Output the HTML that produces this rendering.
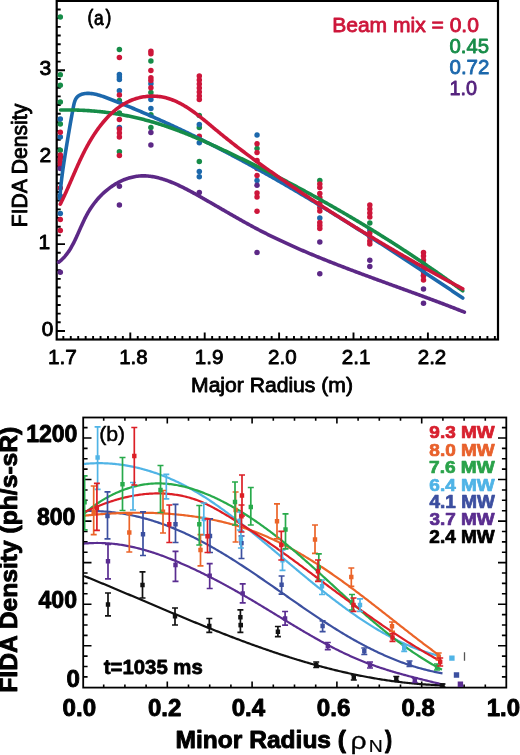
<!DOCTYPE html>
<html><head><meta charset="utf-8"><title>FIDA Density</title>
<style>html,body{margin:0;padding:0;background:#fff;width:520px;height:755px;overflow:hidden}svg{display:block}</style>
</head><body>
<svg width="520" height="755" viewBox="0 0 520 755">
<defs><clipPath id="clipb"><rect x="84" y="418.5" width="421.5" height="268.5"/></clipPath></defs>
<rect width="520" height="755" fill="#fff"/>
<rect x="56.7" y="0.9" width="441.3" height="338.6" fill="none" stroke="#000" stroke-width="2.2"/>
<path d="M56.7,331.00h8.3M56.7,322.31h4.0M56.7,313.62h4.0M56.7,304.93h4.0M56.7,296.24h4.0M56.7,287.55h4.0M56.7,278.86h4.0M56.7,270.17h4.0M56.7,261.48h4.0M56.7,252.79h4.0M56.7,244.10h8.3M56.7,235.41h4.0M56.7,226.72h4.0M56.7,218.03h4.0M56.7,209.34h4.0M56.7,200.65h4.0M56.7,191.96h4.0M56.7,183.27h4.0M56.7,174.58h4.0M56.7,165.89h4.0M56.7,157.20h8.3M56.7,148.51h4.0M56.7,139.82h4.0M56.7,131.13h4.0M56.7,122.44h4.0M56.7,113.75h4.0M56.7,105.06h4.0M56.7,96.37h4.0M56.7,87.68h4.0M56.7,78.99h4.0M56.7,70.30h8.3M56.7,61.61h4.0M56.7,52.92h4.0M56.7,44.23h4.0M56.7,35.54h4.0M56.7,26.85h4.0M56.7,18.16h4.0M56.7,9.47h4.0M63.34,339.5v-3.6M70.78,339.5v-3.6M78.22,339.5v-3.6M85.66,339.5v-3.6M93.10,339.5v-3.6M100.54,339.5v-3.6M107.98,339.5v-3.6M115.42,339.5v-3.6M122.86,339.5v-3.6M130.30,339.5v-7.0M137.74,339.5v-3.6M145.18,339.5v-3.6M152.62,339.5v-3.6M160.06,339.5v-3.6M167.50,339.5v-3.6M174.94,339.5v-3.6M182.38,339.5v-3.6M189.82,339.5v-3.6M197.26,339.5v-3.6M204.70,339.5v-7.0M212.14,339.5v-3.6M219.58,339.5v-3.6M227.02,339.5v-3.6M234.46,339.5v-3.6M241.90,339.5v-3.6M249.34,339.5v-3.6M256.78,339.5v-3.6M264.22,339.5v-3.6M271.66,339.5v-3.6M279.10,339.5v-7.0M286.54,339.5v-3.6M293.98,339.5v-3.6M301.42,339.5v-3.6M308.86,339.5v-3.6M316.30,339.5v-3.6M323.74,339.5v-3.6M331.18,339.5v-3.6M338.62,339.5v-3.6M346.06,339.5v-3.6M353.50,339.5v-7.0M360.94,339.5v-3.6M368.38,339.5v-3.6M375.82,339.5v-3.6M383.26,339.5v-3.6M390.70,339.5v-3.6M398.14,339.5v-3.6M405.58,339.5v-3.6M413.02,339.5v-3.6M420.46,339.5v-3.6M427.90,339.5v-7.0M435.34,339.5v-3.6M442.78,339.5v-3.6M450.22,339.5v-3.6M457.66,339.5v-3.6M465.10,339.5v-3.6M472.54,339.5v-3.6M479.98,339.5v-3.6M487.42,339.5v-3.6M494.86,339.5v-3.6" stroke="#000" stroke-width="1.9" fill="none"/>
<rect x="83.2" y="417.5" width="423.1" height="270.1" fill="none" stroke="#000" stroke-width="1.8"/>
<path d="M83.2,676.91h4.4M506.3,676.91h-4.4M83.2,666.52h4.4M506.3,666.52h-4.4M83.2,656.14h4.4M506.3,656.14h-4.4M83.2,645.75h8.3M506.3,645.75h-8.3M83.2,635.36h4.4M506.3,635.36h-4.4M83.2,624.97h4.4M506.3,624.97h-4.4M83.2,614.59h4.4M506.3,614.59h-4.4M83.2,604.20h8.3M506.3,604.20h-8.3M83.2,593.81h4.4M506.3,593.81h-4.4M83.2,583.42h4.4M506.3,583.42h-4.4M83.2,573.04h4.4M506.3,573.04h-4.4M83.2,562.65h8.3M506.3,562.65h-8.3M83.2,552.26h4.4M506.3,552.26h-4.4M83.2,541.88h4.4M506.3,541.88h-4.4M83.2,531.49h4.4M506.3,531.49h-4.4M83.2,521.10h8.3M506.3,521.10h-8.3M83.2,510.71h4.4M506.3,510.71h-4.4M83.2,500.32h4.4M506.3,500.32h-4.4M83.2,489.94h4.4M506.3,489.94h-4.4M83.2,479.55h8.3M506.3,479.55h-8.3M83.2,469.16h4.4M506.3,469.16h-4.4M83.2,458.77h4.4M506.3,458.77h-4.4M83.2,448.39h4.4M506.3,448.39h-4.4M83.2,438.00h8.3M506.3,438.00h-8.3M83.2,427.61h4.4M506.3,427.61h-4.4M103.70,687.6v-3.2M103.70,417.5v3.2M124.90,687.6v-3.2M124.90,417.5v3.2M146.10,687.6v-3.2M146.10,417.5v3.2M167.30,687.6v-6.0M167.30,417.5v6.0M188.50,687.6v-3.2M188.50,417.5v3.2M209.70,687.6v-3.2M209.70,417.5v3.2M230.90,687.6v-3.2M230.90,417.5v3.2M252.10,687.6v-6.0M252.10,417.5v6.0M273.30,687.6v-3.2M273.30,417.5v3.2M294.50,687.6v-3.2M294.50,417.5v3.2M315.70,687.6v-3.2M315.70,417.5v3.2M336.90,687.6v-6.0M336.90,417.5v6.0M358.10,687.6v-3.2M358.10,417.5v3.2M379.30,687.6v-3.2M379.30,417.5v3.2M400.50,687.6v-3.2M400.50,417.5v3.2M421.70,687.6v-6.0M421.70,417.5v6.0M442.90,687.6v-3.2M442.90,417.5v3.2M464.10,687.6v-3.2M464.10,417.5v3.2M485.30,687.6v-3.2M485.30,417.5v3.2" stroke="#000" stroke-width="1.6" fill="none"/>
<circle cx="60.3" cy="16.9" r="2.75" fill="#168c48"/>
<circle cx="60.3" cy="74.8" r="2.75" fill="#168c48"/>
<circle cx="60.3" cy="85.2" r="2.75" fill="#168c48"/>
<circle cx="60.3" cy="102" r="2.75" fill="#168c48"/>
<circle cx="60.3" cy="124" r="2.75" fill="#168c48"/>
<circle cx="60.3" cy="150.3" r="2.75" fill="#168c48"/>
<circle cx="60.3" cy="119" r="2.75" fill="#1c68ac"/>
<circle cx="60.3" cy="137" r="2.75" fill="#1c68ac"/>
<circle cx="60.3" cy="196" r="2.75" fill="#1c68ac"/>
<circle cx="60.3" cy="213.4" r="2.75" fill="#1c68ac"/>
<circle cx="60.3" cy="132.3" r="2.75" fill="#cd163a"/>
<circle cx="60.3" cy="155" r="2.75" fill="#cd163a"/>
<circle cx="60.3" cy="158.5" r="2.75" fill="#cd163a"/>
<circle cx="60.3" cy="162" r="2.75" fill="#cd163a"/>
<circle cx="60.3" cy="165.5" r="2.75" fill="#cd163a"/>
<circle cx="60.3" cy="188" r="2.75" fill="#cd163a"/>
<circle cx="60.3" cy="219.4" r="2.75" fill="#cd163a"/>
<circle cx="60.3" cy="230.5" r="2.75" fill="#cd163a"/>
<circle cx="60.3" cy="168.5" r="2.75" fill="#5c2886"/>
<circle cx="60.3" cy="272.3" r="2.75" fill="#5c2886"/>
<circle cx="119.4" cy="49.5" r="2.75" fill="#168c48"/>
<circle cx="119.4" cy="100.4" r="2.75" fill="#168c48"/>
<circle cx="119.4" cy="113.1" r="2.75" fill="#168c48"/>
<circle cx="119.4" cy="151.8" r="2.75" fill="#168c48"/>
<circle cx="119.4" cy="74.5" r="2.75" fill="#1c68ac"/>
<circle cx="119.4" cy="77" r="2.75" fill="#1c68ac"/>
<circle cx="119.4" cy="79.5" r="2.75" fill="#1c68ac"/>
<circle cx="119.4" cy="90.8" r="2.75" fill="#1c68ac"/>
<circle cx="119.4" cy="127.5" r="2.75" fill="#1c68ac"/>
<circle cx="119.4" cy="57.5" r="2.75" fill="#cd163a"/>
<circle cx="119.4" cy="95" r="2.75" fill="#cd163a"/>
<circle cx="119.4" cy="119.5" r="2.75" fill="#cd163a"/>
<circle cx="119.4" cy="129" r="2.75" fill="#cd163a"/>
<circle cx="119.4" cy="133" r="2.75" fill="#cd163a"/>
<circle cx="119.4" cy="137" r="2.75" fill="#cd163a"/>
<circle cx="119.4" cy="155.5" r="2.75" fill="#cd163a"/>
<circle cx="119.4" cy="186.3" r="2.75" fill="#5c2886"/>
<circle cx="119.4" cy="205" r="2.75" fill="#5c2886"/>
<circle cx="150.9" cy="61" r="2.75" fill="#168c48"/>
<circle cx="150.9" cy="92.5" r="2.75" fill="#168c48"/>
<circle cx="150.9" cy="114.7" r="2.75" fill="#168c48"/>
<circle cx="150.9" cy="127.4" r="2.75" fill="#168c48"/>
<circle cx="150.9" cy="83.7" r="2.75" fill="#1c68ac"/>
<circle cx="150.9" cy="99.6" r="2.75" fill="#1c68ac"/>
<circle cx="150.9" cy="108.4" r="2.75" fill="#1c68ac"/>
<circle cx="150.9" cy="51.3" r="2.75" fill="#cd163a"/>
<circle cx="150.9" cy="53.8" r="2.75" fill="#cd163a"/>
<circle cx="150.9" cy="70.5" r="2.75" fill="#cd163a"/>
<circle cx="150.9" cy="77.8" r="2.75" fill="#cd163a"/>
<circle cx="150.9" cy="80.5" r="2.75" fill="#cd163a"/>
<circle cx="150.9" cy="87.7" r="2.75" fill="#cd163a"/>
<circle cx="150.9" cy="132.5" r="2.75" fill="#5c2886"/>
<circle cx="150.9" cy="145" r="2.75" fill="#5c2886"/>
<circle cx="199.3" cy="115.6" r="2.75" fill="#168c48"/>
<circle cx="199.3" cy="127.6" r="2.75" fill="#168c48"/>
<circle cx="199.3" cy="161.5" r="2.75" fill="#168c48"/>
<circle cx="199.3" cy="124.4" r="2.75" fill="#1c68ac"/>
<circle cx="199.3" cy="142.7" r="2.75" fill="#1c68ac"/>
<circle cx="199.3" cy="171.5" r="2.75" fill="#1c68ac"/>
<circle cx="199.3" cy="176.8" r="2.75" fill="#1c68ac"/>
<circle cx="199.3" cy="76" r="2.75" fill="#cd163a"/>
<circle cx="199.3" cy="80" r="2.75" fill="#cd163a"/>
<circle cx="199.3" cy="84" r="2.75" fill="#cd163a"/>
<circle cx="199.3" cy="88" r="2.75" fill="#cd163a"/>
<circle cx="199.3" cy="92" r="2.75" fill="#cd163a"/>
<circle cx="199.3" cy="96" r="2.75" fill="#cd163a"/>
<circle cx="199.3" cy="99.5" r="2.75" fill="#cd163a"/>
<circle cx="199.3" cy="136.3" r="2.75" fill="#cd163a"/>
<circle cx="199.3" cy="192.6" r="2.75" fill="#5c2886"/>
<circle cx="257.0" cy="148.6" r="2.75" fill="#168c48"/>
<circle cx="257.0" cy="135.1" r="2.75" fill="#1c68ac"/>
<circle cx="257.0" cy="180.4" r="2.75" fill="#1c68ac"/>
<circle cx="257.0" cy="143.8" r="2.75" fill="#cd163a"/>
<circle cx="257.0" cy="152.6" r="2.75" fill="#cd163a"/>
<circle cx="257.0" cy="160.5" r="2.75" fill="#cd163a"/>
<circle cx="257.0" cy="168.5" r="2.75" fill="#cd163a"/>
<circle cx="257.0" cy="175.6" r="2.75" fill="#cd163a"/>
<circle cx="257.0" cy="193" r="2.75" fill="#cd163a"/>
<circle cx="257.0" cy="197" r="2.75" fill="#cd163a"/>
<circle cx="257.0" cy="211.2" r="2.75" fill="#cd163a"/>
<circle cx="257.0" cy="185.2" r="2.75" fill="#5c2886"/>
<circle cx="257.0" cy="252.4" r="2.75" fill="#5c2886"/>
<circle cx="319.8" cy="180.5" r="2.75" fill="#168c48"/>
<circle cx="319.8" cy="218" r="2.75" fill="#1c68ac"/>
<circle cx="319.8" cy="184" r="2.75" fill="#cd163a"/>
<circle cx="319.8" cy="187.5" r="2.75" fill="#cd163a"/>
<circle cx="319.8" cy="193.5" r="2.75" fill="#cd163a"/>
<circle cx="319.8" cy="197.5" r="2.75" fill="#cd163a"/>
<circle cx="319.8" cy="203" r="2.75" fill="#cd163a"/>
<circle cx="319.8" cy="207.5" r="2.75" fill="#cd163a"/>
<circle cx="319.8" cy="211" r="2.75" fill="#cd163a"/>
<circle cx="319.8" cy="222.5" r="2.75" fill="#cd163a"/>
<circle cx="319.8" cy="225.5" r="2.75" fill="#cd163a"/>
<circle cx="319.8" cy="228.5" r="2.75" fill="#cd163a"/>
<circle cx="319.8" cy="241.9" r="2.75" fill="#5c2886"/>
<circle cx="319.8" cy="273.7" r="2.75" fill="#5c2886"/>
<circle cx="369.8" cy="222.9" r="2.75" fill="#168c48"/>
<circle cx="369.8" cy="230.1" r="2.75" fill="#1c68ac"/>
<circle cx="369.8" cy="205" r="2.75" fill="#cd163a"/>
<circle cx="369.8" cy="209" r="2.75" fill="#cd163a"/>
<circle cx="369.8" cy="213" r="2.75" fill="#cd163a"/>
<circle cx="369.8" cy="217" r="2.75" fill="#cd163a"/>
<circle cx="369.8" cy="233" r="2.75" fill="#cd163a"/>
<circle cx="369.8" cy="237" r="2.75" fill="#cd163a"/>
<circle cx="369.8" cy="241" r="2.75" fill="#cd163a"/>
<circle cx="369.8" cy="244" r="2.75" fill="#cd163a"/>
<circle cx="369.8" cy="260.3" r="2.75" fill="#5c2886"/>
<circle cx="369.8" cy="266.6" r="2.75" fill="#5c2886"/>
<circle cx="423.5" cy="275.3" r="2.75" fill="#1c68ac"/>
<circle cx="423.5" cy="252.6" r="2.75" fill="#cd163a"/>
<circle cx="423.5" cy="256" r="2.75" fill="#cd163a"/>
<circle cx="423.5" cy="260" r="2.75" fill="#cd163a"/>
<circle cx="423.5" cy="264" r="2.75" fill="#cd163a"/>
<circle cx="423.5" cy="268" r="2.75" fill="#cd163a"/>
<circle cx="423.5" cy="272" r="2.75" fill="#cd163a"/>
<circle cx="423.5" cy="276" r="2.75" fill="#cd163a"/>
<circle cx="423.5" cy="280" r="2.75" fill="#cd163a"/>
<circle cx="423.5" cy="289" r="2.75" fill="#5c2886"/>
<circle cx="423.5" cy="303.3" r="2.75" fill="#5c2886"/>
<path d="M58.61,262.22 L59.51,261.53 L60.38,260.82 L61.23,260.09 L62.06,259.33 L62.86,258.55 L63.64,257.75 L64.40,256.93 L65.14,256.09 L65.86,255.22 L66.56,254.34 L67.24,253.45 L67.90,252.53 L68.55,251.60 L69.19,250.65 L69.81,249.69 L70.41,248.71 L71.00,247.72 L71.58,246.71 L72.15,245.70 L72.71,244.67 L73.26,243.63 L73.80,242.58 L74.33,241.52 L74.85,240.45 L75.37,239.37 L75.88,238.28 L76.39,237.19 L76.89,236.09 L77.39,234.98 L77.89,233.87 L78.38,232.76 L78.88,231.64 L79.37,230.52 L79.87,229.39 L80.36,228.27 L80.86,227.14 L81.37,226.01 L81.88,224.89 L82.39,223.76 L82.91,222.64 L83.43,221.52 L83.96,220.40 L84.50,219.28 L85.05,218.17 L85.61,217.07 L86.18,215.97 L86.76,214.88 L87.36,213.79 L87.96,212.72 L88.58,211.65 L89.22,210.59 L89.87,209.54 L90.54,208.50 L91.22,207.47 L91.91,206.45 L92.62,205.44 L93.34,204.45 L94.08,203.46 L94.83,202.49 L95.60,201.53 L96.37,200.58 L97.16,199.65 L97.96,198.73 L98.78,197.82 L99.61,196.93 L100.44,196.05 L101.30,195.18 L102.16,194.33 L103.03,193.49 L103.91,192.67 L104.81,191.87 L105.72,191.08 L106.63,190.31 L107.56,189.55 L108.49,188.81 L109.44,188.09 L110.39,187.38 L111.36,186.70 L112.33,186.03 L113.31,185.38 L114.30,184.75 L115.30,184.13 L116.31,183.54 L117.32,182.97 L118.34,182.41 L119.37,181.88 L120.41,181.36 L121.45,180.87 L122.50,180.40 L123.56,179.95 L124.62,179.52 L125.69,179.12 L126.76,178.73 L127.84,178.37 L128.92,178.03 L130.01,177.72 L131.11,177.43 L132.20,177.16 L133.31,176.92 L134.41,176.70 L135.52,176.50 L136.64,176.34 L137.76,176.19 L138.88,176.07 L140.00,175.98 L141.13,175.92 L142.26,175.88 L143.39,175.87 L144.52,175.88 L145.66,175.92 L146.79,175.98 L147.93,176.06 L149.07,176.17 L150.22,176.30 L151.36,176.46 L152.51,176.64 L153.65,176.83 L154.80,177.05 L155.95,177.29 L157.10,177.55 L158.25,177.82 L159.40,178.12 L160.55,178.43 L161.71,178.77 L162.86,179.12 L164.01,179.48 L165.16,179.86 L166.32,180.26 L167.47,180.67 L168.62,181.10 L169.77,181.54 L170.92,181.99 L172.07,182.46 L173.22,182.94 L174.37,183.43 L175.52,183.93 L176.66,184.44 L177.81,184.96 L178.95,185.50 L180.10,186.04 L181.24,186.59 L182.37,187.15 L183.51,187.71 L184.65,188.29 L185.78,188.87 L186.91,189.45 L188.04,190.04 L189.16,190.64 L190.29,191.24 L191.41,191.85 L192.52,192.45 L193.64,193.07 L194.75,193.68 L195.86,194.29 L196.96,194.91 L198.06,195.53 L199.16,196.15 L200.25,196.77 L201.34,197.38 L202.43,198.00 L203.51,198.62 L204.59,199.23 L205.67,199.85 L206.74,200.46 L207.81,201.07 L208.88,201.69 L209.94,202.30 L211.00,202.91 L212.06,203.52 L213.12,204.13 L214.17,204.74 L215.22,205.35 L216.27,205.95 L217.32,206.56 L218.36,207.17 L219.40,207.77 L220.44,208.37 L221.48,208.97 L222.52,209.58 L223.55,210.18 L224.59,210.77 L225.62,211.37 L226.65,211.97 L227.68,212.56 L228.71,213.16 L229.74,213.75 L230.76,214.34 L231.79,214.93 L232.82,215.52 L233.84,216.11 L234.87,216.69 L235.89,217.28 L236.91,217.86 L237.94,218.44 L238.96,219.02 L239.98,219.60 L241.01,220.18 L242.03,220.75 L243.05,221.33 L244.08,221.90 L245.10,222.47 L246.13,223.04 L247.15,223.60 L248.18,224.17 L249.21,224.73 L250.24,225.29 L251.27,225.85 L252.30,226.41 L253.33,226.97 L254.37,227.52 L255.40,228.07 L256.44,228.62 L257.48,229.17 L258.52,229.72 L259.56,230.26 L260.61,230.80 L261.65,231.34 L262.70,231.88 L263.75,232.41 L264.80,232.95 L265.85,233.48 L266.91,234.01 L267.96,234.54 L269.02,235.06 L270.08,235.59 L271.14,236.11 L272.20,236.63 L273.27,237.15 L274.33,237.66 L275.40,238.18 L276.47,238.69 L277.54,239.20 L278.61,239.71 L279.68,240.22 L280.76,240.73 L281.83,241.23 L282.91,241.73 L283.99,242.23 L285.07,242.73 L286.15,243.23 L287.23,243.73 L288.32,244.22 L289.40,244.72 L290.49,245.21 L291.58,245.70 L292.67,246.18 L293.76,246.67 L294.85,247.16 L295.94,247.64 L297.04,248.12 L298.13,248.60 L299.23,249.08 L300.33,249.56 L301.43,250.04 L302.53,250.51 L303.63,250.98 L304.73,251.46 L305.83,251.93 L306.94,252.40 L308.04,252.87 L309.15,253.33 L310.26,253.80 L311.36,254.26 L312.47,254.72 L313.58,255.19 L314.69,255.65 L315.81,256.11 L316.92,256.56 L318.03,257.02 L319.15,257.48 L320.26,257.93 L321.38,258.38 L322.50,258.84 L323.62,259.29 L324.74,259.74 L325.86,260.19 L326.98,260.63 L328.10,261.08 L329.22,261.53 L330.34,261.97 L331.47,262.42 L332.59,262.86 L333.71,263.30 L334.84,263.74 L335.97,264.18 L337.09,264.62 L338.22,265.06 L339.35,265.49 L340.48,265.93 L341.61,266.37 L342.73,266.80 L343.86,267.23 L345.00,267.67 L346.13,268.10 L347.26,268.53 L348.39,268.96 L349.52,269.39 L350.65,269.82 L351.79,270.25 L352.92,270.68 L354.06,271.10 L355.19,271.53 L356.32,271.96 L357.46,272.38 L358.59,272.80 L359.73,273.23 L360.87,273.65 L362.00,274.07 L363.14,274.50 L364.28,274.92 L365.41,275.34 L366.55,275.76 L367.69,276.18 L368.82,276.60 L369.96,277.02 L371.10,277.43 L372.24,277.85 L373.37,278.27 L374.51,278.69 L375.65,279.10 L376.79,279.52 L377.93,279.94 L379.06,280.35 L380.20,280.77 L381.34,281.18 L382.48,281.60 L383.62,282.01 L384.75,282.43 L385.89,282.84 L387.03,283.25 L388.17,283.67 L389.30,284.08 L390.44,284.49 L391.58,284.91 L392.72,285.32 L393.85,285.73 L394.99,286.14 L396.13,286.56 L397.26,286.97 L398.40,287.38 L399.53,287.79 L400.67,288.20 L401.80,288.62 L402.94,289.03 L404.07,289.44 L405.21,289.85 L406.34,290.26 L407.47,290.68 L408.61,291.09 L409.74,291.50 L410.87,291.91 L412.00,292.33 L413.13,292.74 L414.26,293.15 L415.39,293.56 L416.52,293.98 L417.65,294.39 L418.78,294.80 L419.91,295.22 L421.03,295.63 L422.16,296.04 L423.29,296.46 L424.41,296.87 L425.54,297.29 L426.66,297.70 L427.78,298.12 L428.91,298.53 L430.03,298.95 L431.15,299.37 L432.27,299.78 L433.39,300.20 L434.51,300.62 L435.62,301.04 L436.74,301.46 L437.86,301.88 L438.97,302.29 L440.09,302.72 L441.20,303.14 L442.32,303.56 L443.43,303.98 L444.54,304.40 L445.65,304.82 L446.76,305.25 L447.87,305.67 L448.97,306.10 L450.08,306.52 L451.18,306.95 L452.29,307.37 L453.39,307.80 L454.49,308.23 L455.59,308.66 L456.69,309.09 L457.79,309.52 L458.89,309.95 L459.99,310.38 L461.08,310.81 L462.17,311.25 L463.27,311.68 L464.36,312.11" fill="none" stroke="#5c2886" stroke-width="3.6" stroke-linecap="round" stroke-linejoin="round"/>
<path d="M59.83,199.01 L59.91,197.66 L59.99,196.30 L60.09,194.95 L60.19,193.59 L60.29,192.23 L60.41,190.87 L60.52,189.51 L60.65,188.15 L60.78,186.79 L60.92,185.43 L61.06,184.07 L61.21,182.71 L61.36,181.34 L61.52,179.98 L61.69,178.62 L61.85,177.26 L62.03,175.90 L62.20,174.54 L62.38,173.18 L62.57,171.82 L62.75,170.46 L62.94,169.10 L63.14,167.74 L63.34,166.38 L63.54,165.03 L63.74,163.67 L63.94,162.32 L64.15,160.97 L64.36,159.62 L64.57,158.27 L64.78,156.92 L64.99,155.58 L65.21,154.24 L65.42,152.90 L65.64,151.56 L65.86,150.22 L66.07,148.89 L66.29,147.56 L66.51,146.23 L66.73,144.90 L66.95,143.57 L67.16,142.25 L67.38,140.92 L67.60,139.60 L67.82,138.28 L68.05,136.95 L68.27,135.62 L68.49,134.29 L68.72,132.96 L68.95,131.63 L69.17,130.29 L69.40,128.95 L69.64,127.60 L69.87,126.25 L70.11,124.89 L70.35,123.53 L70.59,122.16 L70.84,120.78 L71.08,119.40 L71.33,118.01 L71.59,116.61 L71.84,115.20 L72.11,113.78 L72.37,112.35 L72.64,110.91 L72.91,109.46 L73.18,108.00 L73.46,106.53 L73.76,105.06 L74.09,103.63 L74.47,102.24 L74.91,100.92 L75.42,99.68 L76.02,98.55 L76.73,97.55 L77.53,96.68 L78.42,95.92 L79.39,95.28 L80.44,94.74 L81.54,94.30 L82.70,93.96 L83.91,93.70 L85.15,93.52 L86.42,93.42 L87.71,93.39 L89.01,93.41 L90.30,93.49 L91.60,93.62 L92.90,93.80 L94.20,94.02 L95.50,94.28 L96.79,94.58 L98.09,94.92 L99.38,95.29 L100.68,95.68 L101.97,96.10 L103.27,96.54 L104.56,97.00 L105.85,97.48 L107.14,97.96 L108.43,98.46 L109.72,98.96 L111.01,99.46 L112.30,99.96 L113.59,100.47 L114.87,100.98 L116.16,101.48 L117.44,101.99 L118.72,102.51 L120.01,103.02 L121.29,103.54 L122.57,104.05 L123.84,104.57 L125.12,105.09 L126.40,105.61 L127.67,106.13 L128.95,106.66 L130.22,107.18 L131.50,107.71 L132.77,108.24 L134.04,108.77 L135.31,109.30 L136.58,109.84 L137.85,110.37 L139.11,110.91 L140.38,111.45 L141.65,111.99 L142.91,112.53 L144.18,113.07 L145.44,113.62 L146.70,114.16 L147.96,114.71 L149.22,115.26 L150.48,115.81 L151.74,116.36 L153.00,116.92 L154.25,117.47 L155.51,118.03 L156.76,118.58 L158.02,119.14 L159.27,119.70 L160.52,120.27 L161.77,120.83 L163.02,121.39 L164.27,121.96 L165.52,122.53 L166.77,123.10 L168.02,123.67 L169.26,124.24 L170.51,124.81 L171.75,125.39 L172.99,125.96 L174.24,126.54 L175.48,127.12 L176.72,127.70 L177.96,128.28 L179.20,128.87 L180.44,129.45 L181.68,130.04 L182.91,130.62 L184.15,131.21 L185.38,131.80 L186.62,132.39 L187.85,132.98 L189.09,133.58 L190.32,134.17 L191.55,134.77 L192.78,135.37 L194.01,135.97 L195.24,136.57 L196.47,137.17 L197.69,137.77 L198.92,138.38 L200.15,138.98 L201.37,139.59 L202.59,140.20 L203.82,140.80 L205.04,141.42 L206.26,142.03 L207.48,142.64 L208.71,143.25 L209.93,143.87 L211.14,144.49 L212.36,145.10 L213.58,145.72 L214.80,146.34 L216.01,146.97 L217.23,147.59 L218.44,148.21 L219.66,148.84 L220.87,149.46 L222.08,150.09 L223.29,150.72 L224.51,151.35 L225.72,151.98 L226.93,152.61 L228.14,153.25 L229.34,153.88 L230.55,154.52 L231.76,155.15 L232.96,155.79 L234.17,156.43 L235.38,157.07 L236.58,157.71 L237.78,158.36 L238.99,159.00 L240.19,159.64 L241.39,160.29 L242.59,160.94 L243.79,161.58 L244.99,162.23 L246.19,162.88 L247.39,163.54 L248.59,164.19 L249.78,164.84 L250.98,165.50 L252.18,166.15 L253.37,166.81 L254.57,167.47 L255.76,168.13 L256.95,168.78 L258.15,169.45 L259.34,170.11 L260.53,170.77 L261.72,171.43 L262.91,172.10 L264.10,172.77 L265.29,173.43 L266.48,174.10 L267.67,174.77 L268.86,175.44 L270.04,176.11 L271.23,176.78 L272.41,177.46 L273.60,178.13 L274.78,178.80 L275.97,179.48 L277.15,180.16 L278.34,180.83 L279.52,181.51 L280.70,182.19 L281.88,182.87 L283.06,183.55 L284.24,184.24 L285.42,184.92 L286.60,185.60 L287.78,186.29 L288.96,186.98 L290.14,187.66 L291.31,188.35 L292.49,189.04 L293.66,189.73 L294.84,190.42 L296.02,191.11 L297.19,191.80 L298.36,192.50 L299.54,193.19 L300.71,193.89 L301.88,194.58 L303.06,195.28 L304.23,195.97 L305.40,196.67 L306.57,197.37 L307.74,198.07 L308.91,198.77 L310.08,199.47 L311.25,200.18 L312.42,200.88 L313.58,201.58 L314.75,202.29 L315.92,202.99 L317.08,203.70 L318.25,204.41 L319.42,205.11 L320.58,205.82 L321.75,206.53 L322.91,207.24 L324.07,207.95 L325.24,208.67 L326.40,209.38 L327.56,210.09 L328.73,210.80 L329.89,211.52 L331.05,212.23 L332.21,212.95 L333.37,213.67 L334.53,214.38 L335.69,215.10 L336.85,215.82 L338.01,216.54 L339.17,217.26 L340.33,217.98 L341.48,218.70 L342.64,219.43 L343.80,220.15 L344.96,220.87 L346.11,221.60 L347.27,222.32 L348.42,223.05 L349.58,223.77 L350.74,224.50 L351.89,225.23 L353.04,225.96 L354.20,226.69 L355.35,227.41 L356.51,228.14 L357.66,228.88 L358.81,229.61 L359.96,230.34 L361.12,231.07 L362.27,231.80 L363.42,232.54 L364.57,233.27 L365.72,234.01 L366.87,234.74 L368.02,235.48 L369.17,236.21 L370.32,236.95 L371.47,237.69 L372.62,238.43 L373.77,239.16 L374.92,239.90 L376.07,240.64 L377.21,241.38 L378.36,242.12 L379.51,242.87 L380.66,243.61 L381.80,244.35 L382.95,245.09 L384.10,245.83 L385.24,246.58 L386.39,247.32 L387.53,248.07 L388.68,248.81 L389.82,249.56 L390.97,250.30 L392.11,251.05 L393.26,251.80 L394.40,252.55 L395.55,253.29 L396.69,254.04 L397.83,254.79 L398.98,255.54 L400.12,256.29 L401.26,257.04 L402.41,257.79 L403.55,258.54 L404.69,259.29 L405.83,260.04 L406.98,260.79 L408.12,261.55 L409.26,262.30 L410.40,263.05 L411.54,263.81 L412.68,264.56 L413.82,265.31 L414.96,266.07 L416.11,266.82 L417.25,267.58 L418.39,268.34 L419.53,269.09 L420.67,269.85 L421.81,270.60 L422.95,271.36 L424.09,272.12 L425.22,272.88 L426.36,273.63 L427.50,274.39 L428.64,275.15 L429.78,275.91 L430.92,276.67 L432.06,277.43 L433.20,278.19 L434.34,278.95 L435.47,279.71 L436.61,280.47 L437.75,281.23 L438.89,281.99 L440.03,282.75 L441.16,283.51 L442.30,284.27 L443.44,285.04 L444.58,285.80 L445.72,286.56 L446.85,287.32 L447.99,288.09 L449.13,288.85 L450.27,289.61 L451.40,290.38 L452.54,291.14 L453.68,291.90 L454.81,292.67 L455.95,293.43 L457.09,294.19 L458.23,294.96 L459.36,295.72 L460.50,296.49 L461.64,297.25 L462.77,298.02" fill="none" stroke="#1c68ac" stroke-width="3.6" stroke-linecap="round" stroke-linejoin="round"/>
<path d="M60.60,110.03 L61.74,110.01 L62.88,109.99 L64.01,109.97 L65.15,109.96 L66.28,109.95 L67.41,109.95 L68.55,109.95 L69.68,109.96 L70.81,109.97 L71.94,109.98 L73.08,110.00 L74.21,110.02 L75.34,110.04 L76.46,110.07 L77.59,110.11 L78.72,110.14 L79.85,110.19 L80.98,110.23 L82.10,110.28 L83.23,110.34 L84.35,110.40 L85.48,110.46 L86.60,110.52 L87.72,110.60 L88.84,110.67 L89.97,110.75 L91.09,110.83 L92.21,110.92 L93.33,111.01 L94.44,111.11 L95.56,111.21 L96.68,111.31 L97.80,111.42 L98.91,111.53 L100.03,111.64 L101.14,111.76 L102.25,111.89 L103.37,112.02 L104.48,112.15 L105.59,112.28 L106.70,112.42 L107.81,112.57 L108.92,112.72 L110.03,112.87 L111.13,113.03 L112.24,113.19 L113.35,113.35 L114.45,113.52 L115.55,113.69 L116.66,113.87 L117.76,114.05 L118.86,114.23 L119.96,114.42 L121.06,114.62 L122.16,114.81 L123.26,115.02 L124.35,115.22 L125.45,115.43 L126.54,115.64 L127.64,115.86 L128.73,116.08 L129.82,116.31 L130.91,116.54 L132.00,116.77 L133.09,117.01 L134.18,117.25 L135.27,117.50 L136.36,117.75 L137.44,118.00 L138.53,118.26 L139.61,118.52 L140.69,118.78 L141.77,119.05 L142.85,119.33 L143.93,119.61 L145.01,119.89 L146.09,120.17 L147.16,120.46 L148.24,120.76 L149.31,121.06 L150.39,121.36 L151.46,121.66 L152.53,121.97 L153.60,122.29 L154.67,122.61 L155.74,122.93 L156.80,123.26 L157.87,123.58 L158.93,123.92 L160.00,124.26 L161.06,124.60 L162.12,124.94 L163.18,125.29 L164.24,125.64 L165.30,126.00 L166.36,126.35 L167.41,126.72 L168.47,127.08 L169.52,127.45 L170.58,127.82 L171.63,128.20 L172.68,128.57 L173.73,128.96 L174.78,129.34 L175.83,129.73 L176.88,130.12 L177.93,130.51 L178.97,130.91 L180.02,131.31 L181.06,131.71 L182.11,132.11 L183.15,132.52 L184.19,132.93 L185.24,133.34 L186.28,133.76 L187.32,134.18 L188.36,134.60 L189.40,135.02 L190.43,135.44 L191.47,135.87 L192.51,136.30 L193.54,136.73 L194.58,137.17 L195.61,137.60 L196.65,138.04 L197.68,138.48 L198.71,138.92 L199.74,139.37 L200.77,139.82 L201.80,140.26 L202.83,140.71 L203.86,141.17 L204.89,141.62 L205.92,142.07 L206.95,142.53 L207.97,142.99 L209.00,143.45 L210.02,143.91 L211.05,144.37 L212.07,144.84 L213.10,145.30 L214.12,145.77 L215.14,146.24 L216.16,146.71 L217.19,147.18 L218.21,147.65 L219.23,148.13 L220.25,148.60 L221.27,149.08 L222.29,149.55 L223.31,150.03 L224.32,150.51 L225.34,150.99 L226.36,151.46 L227.38,151.94 L228.39,152.43 L229.41,152.91 L230.43,153.39 L231.44,153.87 L232.46,154.36 L233.47,154.84 L234.49,155.33 L235.50,155.81 L236.51,156.30 L237.53,156.78 L238.54,157.27 L239.55,157.76 L240.56,158.25 L241.57,158.74 L242.59,159.23 L243.60,159.72 L244.61,160.21 L245.62,160.70 L246.63,161.19 L247.64,161.69 L248.64,162.18 L249.65,162.68 L250.66,163.17 L251.67,163.67 L252.68,164.17 L253.68,164.66 L254.69,165.16 L255.69,165.66 L256.70,166.16 L257.70,166.66 L258.71,167.16 L259.71,167.66 L260.72,168.16 L261.72,168.67 L262.72,169.17 L263.73,169.68 L264.73,170.18 L265.73,170.69 L266.73,171.19 L267.73,171.70 L268.73,172.21 L269.73,172.72 L270.73,173.22 L271.73,173.73 L272.73,174.24 L273.73,174.76 L274.73,175.27 L275.72,175.78 L276.72,176.29 L277.72,176.81 L278.72,177.32 L279.71,177.84 L280.71,178.35 L281.70,178.87 L282.70,179.39 L283.69,179.91 L284.68,180.42 L285.68,180.94 L286.67,181.46 L287.66,181.98 L288.66,182.51 L289.65,183.03 L290.64,183.55 L291.63,184.08 L292.62,184.60 L293.61,185.12 L294.60,185.65 L295.59,186.18 L296.58,186.70 L297.57,187.23 L298.55,187.76 L299.54,188.29 L300.53,188.82 L301.52,189.35 L302.50,189.88 L303.49,190.42 L304.47,190.95 L305.46,191.48 L306.44,192.02 L307.43,192.55 L308.41,193.09 L309.39,193.63 L310.38,194.16 L311.36,194.70 L312.34,195.24 L313.32,195.78 L314.30,196.32 L315.28,196.86 L316.26,197.40 L317.24,197.94 L318.22,198.49 L319.20,199.03 L320.18,199.58 L321.16,200.12 L322.14,200.67 L323.11,201.22 L324.09,201.76 L325.07,202.31 L326.04,202.86 L327.02,203.41 L327.99,203.96 L328.97,204.51 L329.94,205.06 L330.92,205.62 L331.89,206.17 L332.86,206.73 L333.84,207.28 L334.81,207.84 L335.78,208.39 L336.75,208.95 L337.72,209.51 L338.69,210.07 L339.66,210.63 L340.63,211.19 L341.60,211.75 L342.57,212.31 L343.54,212.87 L344.50,213.44 L345.47,214.00 L346.44,214.57 L347.40,215.13 L348.37,215.70 L349.33,216.27 L350.30,216.83 L351.26,217.40 L352.23,217.97 L353.19,218.54 L354.15,219.11 L355.12,219.69 L356.08,220.26 L357.04,220.83 L358.00,221.41 L358.96,221.98 L359.92,222.56 L360.88,223.13 L361.84,223.71 L362.80,224.29 L363.76,224.87 L364.72,225.45 L365.68,226.03 L366.63,226.61 L367.59,227.19 L368.55,227.77 L369.50,228.36 L370.46,228.94 L371.41,229.53 L372.37,230.11 L373.32,230.70 L374.28,231.29 L375.23,231.87 L376.18,232.46 L377.13,233.05 L378.09,233.64 L379.04,234.24 L379.99,234.83 L380.94,235.42 L381.89,236.01 L382.84,236.61 L383.79,237.20 L384.74,237.80 L385.68,238.40 L386.63,239.00 L387.58,239.59 L388.53,240.19 L389.47,240.79 L390.42,241.39 L391.36,242.00 L392.31,242.60 L393.25,243.20 L394.20,243.81 L395.14,244.41 L396.08,245.02 L397.03,245.62 L397.97,246.23 L398.91,246.84 L399.85,247.45 L400.79,248.06 L401.73,248.67 L402.67,249.28 L403.61,249.89 L404.55,250.51 L405.49,251.12 L406.43,251.74 L407.36,252.35 L408.30,252.97 L409.24,253.59 L410.17,254.20 L411.11,254.82 L412.04,255.44 L412.98,256.06 L413.91,256.69 L414.85,257.31 L415.78,257.93 L416.71,258.55 L417.64,259.18 L418.58,259.81 L419.51,260.43 L420.44,261.06 L421.37,261.69 L422.30,262.32 L423.23,262.95 L424.16,263.58 L425.08,264.21 L426.01,264.84 L426.94,265.47 L427.87,266.11 L428.79,266.74 L429.72,267.38 L430.65,268.02 L431.57,268.65 L432.50,269.29 L433.42,269.93 L434.34,270.57 L435.27,271.21 L436.19,271.85 L437.11,272.50 L438.03,273.14 L438.95,273.78 L439.88,274.43 L440.80,275.07 L441.72,275.72 L442.63,276.37 L443.55,277.02 L444.47,277.67 L445.39,278.32 L446.31,278.97 L447.22,279.62 L448.14,280.27 L449.06,280.93 L449.97,281.58 L450.89,282.24 L451.80,282.89 L452.71,283.55 L453.63,284.21 L454.54,284.87 L455.45,285.53 L456.37,286.19 L457.28,286.85 L458.19,287.51 L459.10,288.17 L460.01,288.84 L460.92,289.50 L461.83,290.17 L462.74,290.84" fill="none" stroke="#168c48" stroke-width="3.6" stroke-linecap="round" stroke-linejoin="round"/>
<path d="M60.25,204.24 L60.83,203.09 L61.40,201.94 L61.96,200.79 L62.52,199.63 L63.07,198.47 L63.62,197.31 L64.16,196.14 L64.70,194.98 L65.23,193.81 L65.76,192.64 L66.29,191.47 L66.82,190.29 L67.34,189.12 L67.86,187.94 L68.37,186.77 L68.89,185.59 L69.40,184.41 L69.92,183.23 L70.43,182.05 L70.94,180.87 L71.45,179.69 L71.96,178.50 L72.47,177.32 L72.98,176.14 L73.49,174.96 L74.01,173.77 L74.52,172.59 L75.04,171.41 L75.55,170.23 L76.08,169.04 L76.60,167.86 L77.12,166.68 L77.65,165.50 L78.18,164.33 L78.72,163.15 L79.26,161.97 L79.80,160.80 L80.35,159.62 L80.91,158.45 L81.47,157.28 L82.03,156.11 L82.60,154.94 L83.18,153.78 L83.76,152.61 L84.35,151.45 L84.95,150.29 L85.55,149.14 L86.16,147.98 L86.78,146.83 L87.41,145.68 L88.04,144.54 L88.69,143.39 L89.34,142.25 L90.01,141.12 L90.68,139.98 L91.36,138.85 L92.05,137.73 L92.76,136.60 L93.47,135.48 L94.20,134.37 L94.93,133.26 L95.68,132.15 L96.44,131.05 L97.21,129.95 L97.99,128.86 L98.79,127.78 L99.59,126.71 L100.41,125.64 L101.23,124.59 L102.07,123.54 L102.92,122.51 L103.78,121.48 L104.66,120.47 L105.54,119.47 L106.44,118.48 L107.34,117.51 L108.26,116.55 L109.19,115.60 L110.13,114.67 L111.09,113.76 L112.05,112.86 L113.03,111.98 L114.01,111.11 L115.01,110.27 L116.02,109.45 L117.04,108.64 L118.08,107.85 L119.12,107.09 L120.18,106.35 L121.25,105.63 L122.33,104.93 L123.42,104.26 L124.52,103.61 L125.63,102.98 L126.76,102.38 L127.90,101.81 L129.05,101.26 L130.21,100.74 L131.38,100.24 L132.56,99.78 L133.76,99.34 L134.96,98.93 L136.17,98.55 L137.39,98.19 L138.62,97.87 L139.85,97.57 L141.09,97.30 L142.33,97.06 L143.58,96.84 L144.84,96.66 L146.09,96.50 L147.35,96.37 L148.61,96.27 L149.87,96.19 L151.13,96.15 L152.40,96.13 L153.66,96.15 L154.92,96.19 L156.17,96.26 L157.43,96.36 L158.68,96.48 L159.92,96.64 L161.16,96.82 L162.40,97.04 L163.62,97.28 L164.84,97.55 L166.06,97.85 L167.27,98.18 L168.47,98.54 L169.66,98.92 L170.85,99.32 L172.03,99.75 L173.20,100.21 L174.37,100.69 L175.53,101.19 L176.69,101.72 L177.84,102.26 L178.98,102.83 L180.12,103.41 L181.25,104.02 L182.38,104.65 L183.51,105.29 L184.62,105.95 L185.74,106.62 L186.85,107.32 L187.95,108.02 L189.05,108.75 L190.15,109.48 L191.24,110.23 L192.33,110.99 L193.41,111.77 L194.49,112.55 L195.57,113.35 L196.64,114.15 L197.71,114.97 L198.78,115.79 L199.84,116.62 L200.90,117.46 L201.96,118.30 L203.02,119.15 L204.07,120.00 L205.12,120.86 L206.17,121.72 L207.22,122.59 L208.26,123.45 L209.30,124.32 L210.34,125.19 L211.38,126.06 L212.42,126.92 L213.46,127.79 L214.49,128.66 L215.53,129.52 L216.56,130.38 L217.59,131.23 L218.62,132.08 L219.66,132.93 L220.69,133.77 L221.72,134.61 L222.75,135.45 L223.77,136.28 L224.80,137.11 L225.83,137.94 L226.86,138.76 L227.88,139.58 L228.91,140.39 L229.94,141.21 L230.96,142.02 L231.99,142.82 L233.01,143.63 L234.04,144.43 L235.06,145.23 L236.09,146.02 L237.11,146.81 L238.14,147.60 L239.16,148.39 L240.19,149.18 L241.21,149.96 L242.24,150.74 L243.26,151.52 L244.29,152.29 L245.31,153.07 L246.34,153.84 L247.36,154.60 L248.39,155.37 L249.42,156.14 L250.44,156.90 L251.47,157.66 L252.50,158.42 L253.53,159.18 L254.56,159.93 L255.59,160.68 L256.62,161.44 L257.65,162.19 L258.68,162.94 L259.71,163.68 L260.74,164.43 L261.78,165.18 L262.81,165.92 L263.85,166.66 L264.88,167.40 L265.92,168.14 L266.96,168.88 L268.00,169.62 L269.04,170.36 L270.08,171.10 L271.12,171.83 L272.16,172.57 L273.21,173.30 L274.25,174.04 L275.30,174.77 L276.35,175.51 L277.40,176.24 L278.45,176.97 L279.50,177.70 L280.56,178.43 L281.61,179.16 L282.67,179.89 L283.72,180.62 L284.78,181.35 L285.84,182.08 L286.90,182.81 L287.96,183.54 L289.03,184.26 L290.09,184.99 L291.16,185.72 L292.22,186.44 L293.29,187.17 L294.36,187.89 L295.43,188.61 L296.50,189.34 L297.57,190.06 L298.64,190.78 L299.72,191.50 L300.79,192.22 L301.87,192.94 L302.94,193.66 L304.02,194.38 L305.10,195.10 L306.18,195.82 L307.26,196.53 L308.34,197.25 L309.42,197.97 L310.51,198.68 L311.59,199.40 L312.68,200.11 L313.77,200.82 L314.85,201.54 L315.94,202.25 L317.03,202.96 L318.12,203.67 L319.21,204.38 L320.30,205.09 L321.40,205.80 L322.49,206.51 L323.58,207.21 L324.68,207.92 L325.78,208.63 L326.87,209.33 L327.97,210.04 L329.07,210.74 L330.17,211.44 L331.27,212.15 L332.37,212.85 L333.47,213.55 L334.57,214.25 L335.68,214.95 L336.78,215.65 L337.88,216.35 L338.99,217.05 L340.10,217.75 L341.20,218.44 L342.31,219.14 L343.42,219.83 L344.53,220.53 L345.64,221.22 L346.75,221.91 L347.86,222.61 L348.97,223.30 L350.08,223.99 L351.19,224.68 L352.31,225.37 L353.42,226.06 L354.53,226.74 L355.65,227.43 L356.76,228.12 L357.88,228.80 L359.00,229.49 L360.11,230.17 L361.23,230.86 L362.35,231.54 L363.47,232.22 L364.59,232.90 L365.71,233.58 L366.83,234.26 L367.95,234.94 L369.07,235.62 L370.19,236.30 L371.31,236.97 L372.43,237.65 L373.56,238.32 L374.68,239.00 L375.80,239.67 L376.93,240.34 L378.05,241.01 L379.17,241.68 L380.30,242.35 L381.43,243.02 L382.55,243.69 L383.68,244.36 L384.80,245.02 L385.93,245.69 L387.06,246.36 L388.18,247.02 L389.31,247.68 L390.44,248.35 L391.57,249.01 L392.70,249.67 L393.82,250.33 L394.95,250.99 L396.08,251.64 L397.21,252.30 L398.34,252.96 L399.47,253.61 L400.60,254.27 L401.73,254.92 L402.86,255.58 L403.99,256.23 L405.12,256.88 L406.25,257.53 L407.39,258.18 L408.52,258.83 L409.65,259.47 L410.78,260.12 L411.91,260.77 L413.04,261.41 L414.17,262.06 L415.30,262.70 L416.44,263.34 L417.57,263.98 L418.70,264.62 L419.83,265.26 L420.96,265.90 L422.10,266.54 L423.23,267.17 L424.36,267.81 L425.49,268.44 L426.62,269.08 L427.76,269.71 L428.89,270.34 L430.02,270.97 L431.15,271.60 L432.28,272.23 L433.41,272.86 L434.55,273.49 L435.68,274.11 L436.81,274.74 L437.94,275.36 L439.07,275.98 L440.20,276.61 L441.33,277.23 L442.46,277.85 L443.59,278.47 L444.72,279.09 L445.85,279.70 L446.98,280.32 L448.11,280.93 L449.24,281.55 L450.37,282.16 L451.50,282.77 L452.63,283.38 L453.76,283.99 L454.89,284.60 L456.02,285.21 L457.14,285.82 L458.27,286.42 L459.40,287.03 L460.52,287.63 L461.65,288.24 L462.78,288.84" fill="none" stroke="#cd163a" stroke-width="3.6" stroke-linecap="round" stroke-linejoin="round"/>
<g clip-path="url(#clipb)">
<path d="M84.13,575.96 L85.29,576.43 L86.46,576.91 L87.62,577.38 L88.79,577.86 L89.95,578.33 L91.12,578.81 L92.28,579.29 L93.45,579.77 L94.61,580.25 L95.78,580.73 L96.94,581.21 L98.11,581.69 L99.27,582.17 L100.44,582.65 L101.60,583.14 L102.76,583.62 L103.93,584.11 L105.09,584.59 L106.26,585.08 L107.42,585.56 L108.59,586.05 L109.75,586.54 L110.92,587.02 L112.08,587.51 L113.25,588.00 L114.41,588.49 L115.57,588.98 L116.74,589.47 L117.90,589.96 L119.07,590.45 L120.23,590.94 L121.40,591.43 L122.56,591.92 L123.73,592.41 L124.89,592.90 L126.06,593.40 L127.22,593.89 L128.39,594.38 L129.55,594.88 L130.72,595.37 L131.88,595.86 L133.05,596.36 L134.22,596.85 L135.38,597.34 L136.55,597.84 L137.71,598.33 L138.88,598.83 L140.04,599.32 L141.21,599.82 L142.38,600.31 L143.54,600.80 L144.71,601.30 L145.88,601.79 L147.04,602.29 L148.21,602.78 L149.38,603.28 L150.54,603.77 L151.71,604.27 L152.88,604.76 L154.04,605.26 L155.21,605.75 L156.38,606.24 L157.55,606.74 L158.71,607.23 L159.88,607.73 L161.05,608.22 L162.22,608.71 L163.39,609.20 L164.56,609.70 L165.73,610.19 L166.89,610.68 L168.06,611.17 L169.23,611.67 L170.40,612.16 L171.57,612.65 L172.74,613.14 L173.91,613.63 L175.08,614.12 L176.25,614.61 L177.42,615.10 L178.59,615.59 L179.77,616.08 L180.94,616.56 L182.11,617.05 L183.28,617.54 L184.45,618.02 L185.62,618.51 L186.80,619.00 L187.97,619.48 L189.14,619.96 L190.32,620.45 L191.49,620.93 L192.66,621.41 L193.84,621.90 L195.01,622.38 L196.19,622.86 L197.36,623.34 L198.54,623.82 L199.71,624.29 L200.89,624.77 L202.06,625.25 L203.24,625.73 L204.41,626.20 L205.59,626.68 L206.77,627.15 L207.94,627.62 L209.12,628.10 L210.30,628.57 L211.48,629.04 L212.66,629.51 L213.83,629.98 L215.01,630.44 L216.19,630.91 L217.37,631.38 L218.55,631.84 L219.73,632.31 L220.91,632.77 L222.09,633.23 L223.27,633.69 L224.46,634.15 L225.64,634.61 L226.82,635.07 L228.00,635.53 L229.19,635.99 L230.37,636.44 L231.55,636.89 L232.74,637.35 L233.92,637.80 L235.10,638.25 L236.29,638.70 L237.48,639.15 L238.66,639.59 L239.85,640.04 L241.03,640.48 L242.22,640.92 L243.41,641.37 L244.60,641.81 L245.78,642.25 L246.97,642.68 L248.16,643.12 L249.35,643.56 L250.54,643.99 L251.73,644.42 L252.92,644.85 L254.11,645.28 L255.30,645.71 L256.49,646.14 L257.69,646.56 L258.88,646.99 L260.07,647.41 L261.27,647.83 L262.46,648.25 L263.65,648.67 L264.85,649.08 L266.04,649.50 L267.24,649.91 L268.44,650.32 L269.63,650.73 L270.83,651.14 L272.03,651.54 L273.23,651.95 L274.42,652.35 L275.62,652.75 L276.82,653.15 L278.02,653.55 L279.22,653.95 L280.42,654.34 L281.63,654.74 L282.83,655.13 L284.03,655.52 L285.23,655.90 L286.44,656.29 L287.64,656.67 L288.84,657.06 L290.05,657.44 L291.25,657.81 L292.46,658.19 L293.67,658.57 L294.87,658.94 L296.08,659.31 L297.29,659.68 L298.50,660.04 L299.71,660.41 L300.92,660.77 L302.13,661.13 L303.34,661.49 L304.55,661.85 L305.76,662.20 L306.97,662.55 L308.18,662.91 L309.40,663.25 L310.61,663.60 L311.83,663.94 L313.04,664.29 L314.26,664.63 L315.47,664.96 L316.69,665.30 L317.91,665.63 L319.12,665.96 L320.34,666.29 L321.56,666.62 L322.78,666.94 L324.00,667.27 L325.22,667.59 L326.44,667.90 L327.67,668.22 L328.89,668.53 L330.11,668.84 L331.34,669.15 L332.56,669.46 L333.78,669.76 L335.01,670.06 L336.24,670.36 L337.46,670.65 L338.69,670.95 L339.92,671.24 L341.15,671.53 L342.38,671.81 L343.61,672.10 L344.84,672.38 L346.07,672.66 L347.30,672.93 L348.53,673.21 L349.76,673.48 L351.00,673.75 L352.23,674.01 L353.47,674.28 L354.70,674.54 L355.94,674.79 L357.18,675.05 L358.41,675.30 L359.65,675.55 L360.89,675.80 L362.13,676.04 L363.37,676.28 L364.61,676.52 L365.85,676.76 L367.10,676.99 L368.34,677.22 L369.58,677.45 L370.83,677.67 L372.07,677.90 L373.32,678.12 L374.57,678.33 L375.81,678.54 L377.06,678.75 L378.31,678.96 L379.56,679.17 L380.81,679.37 L382.06,679.57 L383.31,679.76 L384.56,679.95 L385.82,680.14 L387.07,680.33 L388.33,680.51 L389.58,680.70 L390.84,680.87 L392.09,681.05 L393.35,681.22 L394.61,681.39 L395.87,681.55 L397.13,681.71 L398.39,681.87 L399.65,682.03 L400.91,682.18 L402.17,682.33 L403.44,682.47 L404.70,682.62 L405.97,682.76 L407.23,682.89 L408.50,683.03 L409.77,683.15 L411.03,683.28 L412.30,683.40 L413.57,683.52 L414.84,683.64 L416.11,683.75 L417.39,683.86 L418.66,683.97 L419.93,684.07 L421.21,684.17 L422.48,684.27 L423.76,684.36 L425.04,684.45 L426.31,684.53 L427.59,684.61 L428.87,684.69 L430.15,684.77 L431.43,684.84 L432.71,684.91 L434.00,684.97 L435.28,685.03 L436.57,685.09 L437.85,685.14 L439.14,685.19 L440.42,685.24 L441.71,685.28 L443.00,685.32 L444.29,685.35" fill="none" stroke="#111111" stroke-width="2.2" stroke-linejoin="round"/>
<path d="M83.93,543.61 L85.26,543.49 L86.60,543.38 L87.93,543.29 L89.25,543.21 L90.58,543.14 L91.91,543.08 L93.23,543.03 L94.55,543.00 L95.87,542.98 L97.19,542.97 L98.50,542.98 L99.81,542.99 L101.12,543.02 L102.43,543.06 L103.74,543.11 L105.05,543.17 L106.35,543.24 L107.65,543.32 L108.95,543.42 L110.25,543.53 L111.54,543.64 L112.84,543.77 L114.13,543.91 L115.42,544.05 L116.70,544.21 L117.99,544.38 L119.27,544.56 L120.56,544.75 L121.84,544.94 L123.11,545.15 L124.39,545.37 L125.67,545.59 L126.94,545.83 L128.21,546.07 L129.48,546.32 L130.75,546.59 L132.01,546.86 L133.28,547.14 L134.54,547.42 L135.80,547.72 L137.06,548.02 L138.31,548.34 L139.57,548.66 L140.82,548.99 L142.07,549.32 L143.32,549.66 L144.57,550.02 L145.81,550.37 L147.06,550.74 L148.30,551.11 L149.54,551.49 L150.78,551.88 L152.01,552.27 L153.25,552.67 L154.48,553.08 L155.72,553.49 L156.95,553.91 L158.17,554.33 L159.40,554.76 L160.63,555.20 L161.85,555.64 L163.07,556.09 L164.29,556.54 L165.51,557.00 L166.73,557.46 L167.94,557.93 L169.15,558.41 L170.37,558.88 L171.58,559.37 L172.78,559.86 L173.99,560.35 L175.20,560.84 L176.40,561.34 L177.60,561.85 L178.80,562.36 L180.00,562.87 L181.20,563.39 L182.39,563.91 L183.59,564.43 L184.78,564.96 L185.97,565.49 L187.16,566.02 L188.35,566.56 L189.53,567.10 L190.72,567.64 L191.90,568.19 L193.08,568.73 L194.26,569.29 L195.44,569.84 L196.62,570.40 L197.79,570.96 L198.97,571.53 L200.14,572.09 L201.31,572.66 L202.48,573.24 L203.65,573.81 L204.82,574.39 L205.99,574.97 L207.15,575.55 L208.31,576.14 L209.48,576.73 L210.64,577.32 L211.80,577.92 L212.96,578.51 L214.11,579.11 L215.27,579.71 L216.42,580.32 L217.58,580.92 L218.73,581.53 L219.88,582.14 L221.03,582.76 L222.18,583.37 L223.33,583.99 L224.48,584.61 L225.62,585.23 L226.77,585.86 L227.91,586.49 L229.05,587.11 L230.19,587.74 L231.33,588.38 L232.47,589.01 L233.61,589.65 L234.75,590.29 L235.88,590.93 L237.02,591.57 L238.15,592.21 L239.29,592.86 L240.42,593.51 L241.55,594.16 L242.68,594.81 L243.81,595.46 L244.94,596.11 L246.07,596.77 L247.20,597.42 L248.32,598.08 L249.45,598.74 L250.57,599.40 L251.70,600.07 L252.82,600.73 L253.94,601.40 L255.06,602.06 L256.19,602.73 L257.31,603.40 L258.43,604.07 L259.54,604.74 L260.66,605.41 L261.78,606.09 L262.90,606.76 L264.01,607.44 L265.13,608.11 L266.25,608.79 L267.36,609.47 L268.48,610.14 L269.59,610.82 L270.70,611.50 L271.82,612.18 L272.93,612.86 L274.05,613.54 L275.16,614.22 L276.27,614.90 L277.39,615.58 L278.50,616.26 L279.61,616.93 L280.72,617.61 L281.84,618.29 L282.95,618.97 L284.06,619.65 L285.18,620.33 L286.29,621.00 L287.40,621.68 L288.52,622.36 L289.63,623.03 L290.75,623.70 L291.86,624.38 L292.98,625.05 L294.09,625.72 L295.21,626.39 L296.32,627.06 L297.44,627.73 L298.56,628.39 L299.68,629.06 L300.80,629.72 L301.92,630.38 L303.04,631.04 L304.16,631.70 L305.28,632.36 L306.40,633.02 L307.52,633.67 L308.65,634.32 L309.77,634.97 L310.90,635.62 L312.03,636.26 L313.16,636.90 L314.28,637.55 L315.41,638.18 L316.55,638.82 L317.68,639.45 L318.81,640.08 L319.95,640.71 L321.08,641.34 L322.22,641.96 L323.36,642.58 L324.50,643.20 L325.64,643.81 L326.79,644.42 L327.93,645.03 L329.08,645.63 L330.22,646.24 L331.37,646.83 L332.52,647.43 L333.68,648.02 L334.83,648.61 L335.99,649.19 L337.14,649.77 L338.30,650.35 L339.46,650.92 L340.63,651.49 L341.79,652.06 L342.96,652.62 L344.13,653.17 L345.30,653.73 L346.47,654.28 L347.65,654.82 L348.82,655.36 L350.00,655.90 L351.19,656.43 L352.37,656.95 L353.55,657.47 L354.74,657.99 L355.93,658.50 L357.13,659.01 L358.32,659.51 L359.52,660.01 L360.72,660.51 L361.92,660.99 L363.13,661.48 L364.34,661.95 L365.55,662.42 L366.76,662.89 L367.97,663.35 L369.19,663.81 L370.41,664.26 L371.64,664.71 L372.86,665.15 L374.09,665.58 L375.32,666.01 L376.55,666.44 L377.78,666.86 L379.02,667.28 L380.26,667.70 L381.50,668.10 L382.74,668.51 L383.98,668.91 L385.23,669.31 L386.47,669.70 L387.72,670.09 L388.97,670.47 L390.22,670.86 L391.47,671.23 L392.73,671.61 L393.98,671.98 L395.24,672.35 L396.50,672.71 L397.76,673.07 L399.02,673.43 L400.28,673.78 L401.54,674.13 L402.81,674.48 L404.07,674.83 L405.34,675.17 L406.60,675.51 L407.87,675.85 L409.14,676.19 L410.41,676.52 L411.68,676.85 L412.94,677.18 L414.21,677.51 L415.48,677.83 L416.75,678.15 L418.03,678.47 L419.30,678.79 L420.57,679.11 L421.84,679.43 L423.11,679.74 L424.38,680.05 L425.65,680.36 L426.92,680.67 L428.19,680.98 L429.47,681.29 L430.74,681.60 L432.01,681.90 L433.28,682.21 L434.54,682.51 L435.81,682.81 L437.08,683.12 L438.35,683.42 L439.62,683.72 L440.88,684.02 L442.15,684.32" fill="none" stroke="#5a2d91" stroke-width="2.2" stroke-linejoin="round"/>
<path d="M83.28,511.08 L84.71,511.04 L86.13,511.01 L87.55,510.99 L88.97,510.98 L90.38,510.98 L91.79,510.99 L93.20,511.01 L94.60,511.04 L96.00,511.08 L97.39,511.13 L98.78,511.18 L100.17,511.25 L101.55,511.32 L102.93,511.41 L104.31,511.50 L105.68,511.60 L107.05,511.71 L108.41,511.83 L109.77,511.96 L111.13,512.10 L112.49,512.25 L113.84,512.40 L115.18,512.57 L116.53,512.74 L117.87,512.92 L119.21,513.11 L120.54,513.31 L121.87,513.52 L123.20,513.73 L124.52,513.95 L125.84,514.18 L127.16,514.42 L128.48,514.67 L129.79,514.92 L131.10,515.19 L132.40,515.46 L133.70,515.74 L135.00,516.02 L136.30,516.32 L137.59,516.62 L138.88,516.93 L140.17,517.24 L141.45,517.57 L142.73,517.90 L144.01,518.23 L145.28,518.58 L146.56,518.93 L147.82,519.29 L149.09,519.66 L150.35,520.03 L151.62,520.41 L152.87,520.80 L154.13,521.20 L155.38,521.60 L156.63,522.01 L157.88,522.42 L159.13,522.84 L160.37,523.27 L161.61,523.70 L162.84,524.14 L164.08,524.59 L165.31,525.04 L166.54,525.50 L167.77,525.97 L168.99,526.44 L170.22,526.92 L171.44,527.40 L172.65,527.89 L173.87,528.38 L175.08,528.88 L176.29,529.39 L177.50,529.90 L178.71,530.42 L179.91,530.94 L181.12,531.47 L182.32,532.01 L183.51,532.55 L184.71,533.09 L185.90,533.64 L187.10,534.20 L188.29,534.76 L189.47,535.32 L190.66,535.89 L191.84,536.47 L193.03,537.05 L194.21,537.64 L195.38,538.23 L196.56,538.82 L197.73,539.42 L198.91,540.02 L200.08,540.63 L201.25,541.24 L202.41,541.86 L203.58,542.48 L204.74,543.11 L205.91,543.74 L207.07,544.37 L208.23,545.01 L209.38,545.65 L210.54,546.30 L211.69,546.95 L212.85,547.60 L214.00,548.26 L215.15,548.92 L216.30,549.59 L217.44,550.26 L218.59,550.93 L219.74,551.60 L220.88,552.28 L222.02,552.97 L223.16,553.65 L224.30,554.34 L225.44,555.03 L226.58,555.73 L227.71,556.43 L228.85,557.13 L229.98,557.83 L231.11,558.54 L232.24,559.25 L233.37,559.96 L234.50,560.68 L235.63,561.40 L236.76,562.12 L237.88,562.84 L239.01,563.57 L240.13,564.30 L241.26,565.03 L242.38,565.76 L243.50,566.49 L244.62,567.23 L245.74,567.97 L246.86,568.71 L247.98,569.45 L249.10,570.20 L250.21,570.95 L251.33,571.70 L252.45,572.45 L253.56,573.20 L254.68,573.95 L255.79,574.71 L256.90,575.46 L258.02,576.22 L259.13,576.98 L260.24,577.74 L261.35,578.51 L262.46,579.27 L263.58,580.03 L264.69,580.80 L265.80,581.57 L266.91,582.33 L268.02,583.10 L269.12,583.87 L270.23,584.64 L271.34,585.41 L272.45,586.18 L273.56,586.96 L274.67,587.73 L275.78,588.50 L276.88,589.27 L277.99,590.05 L279.10,590.82 L280.21,591.60 L281.31,592.37 L282.42,593.15 L283.53,593.92 L284.64,594.69 L285.75,595.47 L286.85,596.24 L287.96,597.02 L289.07,597.79 L290.18,598.57 L291.29,599.34 L292.40,600.11 L293.51,600.88 L294.62,601.66 L295.73,602.43 L296.84,603.20 L297.95,603.97 L299.06,604.74 L300.17,605.50 L301.28,606.27 L302.39,607.04 L303.51,607.80 L304.62,608.57 L305.74,609.33 L306.85,610.09 L307.96,610.85 L309.08,611.61 L310.20,612.37 L311.31,613.12 L312.43,613.88 L313.55,614.63 L314.67,615.38 L315.79,616.13 L316.91,616.88 L318.03,617.62 L319.15,618.37 L320.28,619.11 L321.40,619.85 L322.53,620.59 L323.65,621.32 L324.78,622.06 L325.91,622.79 L327.04,623.52 L328.17,624.25 L329.30,624.97 L330.43,625.69 L331.56,626.41 L332.70,627.13 L333.83,627.84 L334.97,628.55 L336.11,629.26 L337.24,629.97 L338.38,630.67 L339.53,631.37 L340.67,632.07 L341.81,632.76 L342.96,633.45 L344.11,634.14 L345.25,634.82 L346.40,635.50 L347.55,636.18 L348.71,636.85 L349.86,637.52 L351.02,638.19 L352.17,638.85 L353.33,639.51 L354.49,640.17 L355.65,640.82 L356.82,641.47 L357.98,642.11 L359.15,642.75 L360.32,643.39 L361.49,644.02 L362.66,644.65 L363.84,645.27 L365.01,645.89 L366.19,646.51 L367.37,647.12 L368.55,647.72 L369.73,648.32 L370.92,648.92 L372.11,649.51 L373.30,650.10 L374.49,650.68 L375.68,651.26 L376.88,651.83 L378.07,652.40 L379.27,652.96 L380.47,653.52 L381.68,654.07 L382.88,654.62 L384.09,655.16 L385.30,655.70 L386.51,656.23 L387.73,656.75 L388.95,657.27 L390.17,657.79 L391.39,658.30 L392.61,658.80 L393.84,659.30 L395.07,659.79 L396.30,660.28 L397.53,660.76 L398.77,661.23 L400.01,661.70 L401.25,662.16 L402.50,662.62 L403.74,663.07 L404.99,663.51 L406.25,663.95 L407.50,664.38 L408.76,664.80 L410.02,665.22 L411.28,665.63 L412.55,666.03 L413.82,666.43 L415.09,666.82 L416.36,667.20 L417.64,667.58 L418.92,667.95 L420.20,668.31 L421.49,668.67 L422.78,669.02 L424.07,669.36 L425.36,669.69 L426.66,670.02 L427.96,670.34 L429.27,670.65 L430.57,670.96 L431.88,671.25 L433.20,671.54 L434.51,671.83 L435.83,672.10 L437.16,672.37 L438.48,672.62 L439.81,672.87 L441.15,673.12 L442.48,673.35" fill="none" stroke="#3c50a0" stroke-width="2.2" stroke-linejoin="round"/>
<path d="M83.91,463.98 L85.31,463.85 L86.70,463.72 L88.10,463.61 L89.49,463.51 L90.89,463.43 L92.29,463.36 L93.68,463.30 L95.08,463.25 L96.47,463.22 L97.87,463.20 L99.26,463.20 L100.65,463.20 L102.04,463.22 L103.44,463.25 L104.83,463.30 L106.22,463.35 L107.61,463.42 L108.99,463.50 L110.38,463.60 L111.77,463.70 L113.15,463.82 L114.53,463.95 L115.92,464.09 L117.30,464.24 L118.67,464.40 L120.05,464.58 L121.43,464.76 L122.80,464.96 L124.18,465.17 L125.55,465.39 L126.92,465.62 L128.28,465.86 L129.65,466.12 L131.01,466.38 L132.37,466.66 L133.73,466.94 L135.09,467.24 L136.44,467.54 L137.79,467.86 L139.14,468.19 L140.49,468.52 L141.84,468.87 L143.18,469.23 L144.52,469.60 L145.86,469.97 L147.19,470.36 L148.52,470.76 L149.85,471.16 L151.18,471.58 L152.50,472.00 L153.82,472.44 L155.14,472.88 L156.45,473.33 L157.76,473.80 L159.06,474.27 L160.37,474.75 L161.67,475.23 L162.96,475.73 L164.26,476.24 L165.55,476.75 L166.83,477.28 L168.11,477.81 L169.39,478.35 L170.67,478.89 L171.94,479.45 L173.20,480.01 L174.46,480.59 L175.72,481.17 L176.98,481.75 L178.22,482.35 L179.47,482.95 L180.71,483.56 L181.95,484.18 L183.18,484.80 L184.41,485.44 L185.63,486.08 L186.85,486.72 L188.07,487.38 L189.28,488.04 L190.49,488.70 L191.69,489.38 L192.90,490.06 L194.09,490.74 L195.29,491.43 L196.48,492.13 L197.66,492.84 L198.85,493.55 L200.02,494.26 L201.20,494.99 L202.37,495.71 L203.54,496.45 L204.71,497.19 L205.87,497.93 L207.03,498.68 L208.19,499.44 L209.34,500.20 L210.49,500.96 L211.64,501.73 L212.78,502.51 L213.93,503.28 L215.07,504.07 L216.20,504.86 L217.34,505.65 L218.47,506.45 L219.59,507.25 L220.72,508.05 L221.84,508.86 L222.97,509.67 L224.08,510.49 L225.20,511.31 L226.31,512.13 L227.43,512.96 L228.54,513.79 L229.64,514.62 L230.75,515.46 L231.85,516.30 L232.95,517.14 L234.05,517.99 L235.15,518.84 L236.25,519.69 L237.34,520.54 L238.43,521.40 L239.52,522.26 L240.61,523.12 L241.70,523.98 L242.78,524.84 L243.87,525.71 L244.95,526.58 L246.03,527.45 L247.11,528.32 L248.19,529.19 L249.27,530.07 L250.35,530.94 L251.42,531.82 L252.50,532.70 L253.57,533.58 L254.64,534.46 L255.71,535.34 L256.78,536.22 L257.85,537.10 L258.92,537.99 L259.99,538.87 L261.06,539.76 L262.12,540.64 L263.19,541.53 L264.26,542.42 L265.32,543.31 L266.38,544.20 L267.45,545.08 L268.51,545.98 L269.57,546.87 L270.63,547.76 L271.70,548.65 L272.76,549.54 L273.82,550.43 L274.88,551.32 L275.94,552.22 L277.00,553.11 L278.06,554.00 L279.12,554.90 L280.18,555.79 L281.24,556.68 L282.30,557.58 L283.36,558.47 L284.42,559.36 L285.48,560.26 L286.54,561.15 L287.60,562.04 L288.66,562.93 L289.72,563.83 L290.78,564.72 L291.84,565.61 L292.90,566.50 L293.96,567.39 L295.02,568.28 L296.09,569.17 L297.15,570.06 L298.21,570.95 L299.28,571.83 L300.34,572.72 L301.41,573.61 L302.47,574.49 L303.54,575.38 L304.61,576.26 L305.68,577.14 L306.75,578.02 L307.82,578.90 L308.89,579.78 L309.96,580.66 L311.03,581.54 L312.11,582.42 L313.18,583.29 L314.26,584.16 L315.34,585.04 L316.41,585.91 L317.49,586.78 L318.57,587.65 L319.66,588.51 L320.74,589.38 L321.82,590.24 L322.91,591.10 L324.00,591.96 L325.09,592.82 L326.18,593.68 L327.27,594.54 L328.36,595.39 L329.46,596.24 L330.56,597.09 L331.65,597.94 L332.75,598.78 L333.86,599.63 L334.96,600.47 L336.07,601.31 L337.17,602.15 L338.28,602.98 L339.40,603.82 L340.51,604.65 L341.62,605.48 L342.74,606.30 L343.86,607.13 L344.98,607.95 L346.11,608.77 L347.23,609.58 L348.36,610.40 L349.49,611.21 L350.62,612.01 L351.76,612.82 L352.90,613.62 L354.03,614.42 L355.18,615.21 L356.32,616.00 L357.47,616.79 L358.61,617.57 L359.77,618.35 L360.92,619.12 L362.08,619.89 L363.23,620.66 L364.40,621.42 L365.56,622.18 L366.72,622.94 L367.89,623.69 L369.06,624.43 L370.24,625.17 L371.42,625.91 L372.59,626.64 L373.78,627.36 L374.96,628.09 L376.15,628.80 L377.34,629.51 L378.53,630.22 L379.73,630.92 L380.93,631.61 L382.13,632.30 L383.33,632.98 L384.54,633.66 L385.75,634.33 L386.96,634.99 L388.18,635.65 L389.40,636.31 L390.62,636.95 L391.85,637.59 L393.08,638.23 L394.31,638.85 L395.54,639.47 L396.78,640.09 L398.02,640.69 L399.27,641.29 L400.51,641.89 L401.77,642.47 L403.02,643.05 L404.28,643.62 L405.54,644.19 L406.80,644.74 L408.07,645.29 L409.34,645.83 L410.62,646.37 L411.90,646.89 L413.18,647.41 L414.46,647.92 L415.75,648.42 L417.04,648.91 L418.34,649.40 L419.64,649.87 L420.94,650.34 L422.25,650.80 L423.56,651.25 L424.87,651.69 L426.19,652.12 L427.51,652.55 L428.84,652.96 L430.17,653.37 L431.50,653.76 L432.84,654.15 L434.18,654.53 L435.53,654.89 L436.87,655.25 L438.23,655.60 L439.58,655.94 L440.94,656.27" fill="none" stroke="#50b4e6" stroke-width="2.2" stroke-linejoin="round"/>
<path d="M84.17,515.70 L85.46,515.56 L86.76,515.43 L88.06,515.30 L89.36,515.18 L90.66,515.05 L91.96,514.93 L93.27,514.82 L94.57,514.70 L95.88,514.59 L97.19,514.48 L98.50,514.37 L99.81,514.27 L101.12,514.17 L102.44,514.07 L103.75,513.98 L105.07,513.89 L106.39,513.80 L107.70,513.72 L109.02,513.64 L110.35,513.56 L111.67,513.49 L112.99,513.41 L114.31,513.35 L115.64,513.28 L116.97,513.22 L118.29,513.16 L119.62,513.11 L120.95,513.06 L122.28,513.01 L123.61,512.97 L124.94,512.93 L126.27,512.89 L127.60,512.86 L128.93,512.83 L130.27,512.81 L131.60,512.78 L132.93,512.77 L134.27,512.75 L135.60,512.74 L136.94,512.74 L138.27,512.73 L139.61,512.74 L140.95,512.74 L142.28,512.75 L143.62,512.76 L144.96,512.78 L146.29,512.80 L147.63,512.83 L148.97,512.86 L150.30,512.89 L151.64,512.93 L152.98,512.97 L154.32,513.02 L155.65,513.07 L156.99,513.12 L158.33,513.18 L159.66,513.25 L161.00,513.31 L162.34,513.39 L163.67,513.46 L165.01,513.54 L166.34,513.63 L167.68,513.72 L169.01,513.82 L170.35,513.92 L171.68,514.02 L173.01,514.13 L174.35,514.24 L175.68,514.36 L177.01,514.48 L178.34,514.61 L179.67,514.74 L181.00,514.88 L182.33,515.02 L183.65,515.17 L184.98,515.32 L186.31,515.48 L187.63,515.64 L188.96,515.81 L190.28,515.98 L191.60,516.16 L192.92,516.34 L194.24,516.52 L195.56,516.72 L196.88,516.91 L198.19,517.12 L199.51,517.33 L200.82,517.54 L202.14,517.76 L203.45,517.98 L204.76,518.21 L206.07,518.44 L207.37,518.68 L208.68,518.93 L209.98,519.18 L211.29,519.44 L212.59,519.70 L213.89,519.97 L215.19,520.24 L216.48,520.52 L217.78,520.80 L219.07,521.09 L220.36,521.39 L221.65,521.69 L222.94,522.00 L224.23,522.31 L225.51,522.63 L226.79,522.96 L228.07,523.29 L229.35,523.62 L230.63,523.97 L231.90,524.31 L233.17,524.67 L234.44,525.03 L235.71,525.40 L236.97,525.77 L238.24,526.15 L239.50,526.53 L240.76,526.92 L242.01,527.32 L243.27,527.73 L244.52,528.14 L245.77,528.55 L247.01,528.97 L248.26,529.40 L249.50,529.84 L250.74,530.28 L251.98,530.73 L253.21,531.18 L254.44,531.64 L255.67,532.11 L256.90,532.59 L258.12,533.06 L259.34,533.55 L260.56,534.04 L261.78,534.54 L262.99,535.04 L264.20,535.55 L265.41,536.07 L266.62,536.59 L267.82,537.11 L269.03,537.65 L270.23,538.18 L271.42,538.73 L272.62,539.27 L273.81,539.83 L275.00,540.39 L276.19,540.95 L277.38,541.52 L278.56,542.10 L279.75,542.68 L280.93,543.26 L282.10,543.85 L283.28,544.45 L284.45,545.05 L285.62,545.66 L286.79,546.27 L287.96,546.88 L289.13,547.50 L290.29,548.12 L291.45,548.75 L292.61,549.39 L293.77,550.02 L294.92,550.67 L296.08,551.31 L297.23,551.97 L298.38,552.62 L299.53,553.28 L300.67,553.94 L301.82,554.61 L302.96,555.28 L304.10,555.96 L305.24,556.64 L306.37,557.33 L307.51,558.01 L308.64,558.70 L309.77,559.40 L310.90,560.10 L312.03,560.80 L313.16,561.51 L314.28,562.22 L315.40,562.93 L316.53,563.65 L317.65,564.37 L318.76,565.09 L319.88,565.82 L321.00,566.55 L322.11,567.28 L323.22,568.02 L324.33,568.76 L325.44,569.50 L326.55,570.25 L327.65,571.00 L328.76,571.75 L329.86,572.50 L330.96,573.26 L332.06,574.02 L333.16,574.78 L334.26,575.54 L335.35,576.31 L336.45,577.08 L337.54,577.85 L338.63,578.63 L339.72,579.40 L340.81,580.18 L341.90,580.97 L342.99,581.75 L344.07,582.53 L345.16,583.32 L346.24,584.11 L347.32,584.90 L348.41,585.70 L349.49,586.49 L350.56,587.29 L351.64,588.09 L352.72,588.89 L353.79,589.69 L354.87,590.49 L355.94,591.30 L357.01,592.10 L358.09,592.91 L359.16,593.72 L360.22,594.53 L361.29,595.34 L362.36,596.16 L363.43,596.97 L364.49,597.79 L365.56,598.60 L366.62,599.42 L367.68,600.24 L368.75,601.06 L369.81,601.88 L370.87,602.70 L371.93,603.52 L372.99,604.34 L374.05,605.16 L375.10,605.99 L376.16,606.81 L377.22,607.63 L378.27,608.46 L379.33,609.28 L380.38,610.11 L381.43,610.93 L382.49,611.76 L383.54,612.59 L384.59,613.41 L385.64,614.24 L386.69,615.06 L387.74,615.89 L388.79,616.71 L389.84,617.54 L390.89,618.36 L391.94,619.19 L392.98,620.01 L394.03,620.84 L395.08,621.66 L396.12,622.48 L397.17,623.30 L398.22,624.13 L399.26,624.95 L400.31,625.77 L401.35,626.59 L402.39,627.41 L403.44,628.22 L404.48,629.04 L405.52,629.86 L406.57,630.67 L407.61,631.48 L408.65,632.30 L409.70,633.11 L410.74,633.92 L411.78,634.73 L412.82,635.53 L413.86,636.34 L414.91,637.14 L415.95,637.95 L416.99,638.75 L418.03,639.55 L419.07,640.34 L420.11,641.14 L421.16,641.93 L422.20,642.73 L423.24,643.52 L424.28,644.30 L425.32,645.09 L426.36,645.88 L427.41,646.66 L428.45,647.44 L429.49,648.22 L430.53,648.99 L431.58,649.76 L432.62,650.53 L433.66,651.30 L434.70,652.07 L435.75,652.83 L436.79,653.59 L437.83,654.35 L438.88,655.11 L439.92,655.86" fill="none" stroke="#eb6428" stroke-width="2.2" stroke-linejoin="round"/>
<path d="M84.08,513.69 L85.19,512.74 L86.31,511.79 L87.43,510.86 L88.57,509.94 L89.72,509.03 L90.88,508.13 L92.05,507.24 L93.23,506.37 L94.42,505.51 L95.61,504.67 L96.82,503.84 L98.03,503.02 L99.26,502.21 L100.49,501.42 L101.73,500.65 L102.98,499.88 L104.23,499.14 L105.49,498.40 L106.76,497.69 L108.04,496.98 L109.32,496.30 L110.61,495.62 L111.91,494.97 L113.21,494.33 L114.52,493.70 L115.84,493.10 L117.16,492.50 L118.48,491.93 L119.81,491.37 L121.15,490.83 L122.49,490.31 L123.84,489.80 L125.19,489.31 L126.54,488.84 L127.90,488.39 L129.26,487.96 L130.62,487.54 L131.99,487.14 L133.36,486.77 L134.74,486.41 L136.11,486.07 L137.49,485.75 L138.87,485.45 L140.26,485.16 L141.64,484.90 L143.03,484.66 L144.42,484.44 L145.81,484.24 L147.20,484.06 L148.59,483.91 L149.98,483.77 L151.37,483.65 L152.76,483.56 L154.16,483.49 L155.55,483.43 L156.94,483.40 L158.33,483.40 L159.72,483.41 L161.11,483.44 L162.50,483.49 L163.89,483.56 L165.28,483.65 L166.67,483.76 L168.06,483.89 L169.45,484.04 L170.83,484.20 L172.22,484.38 L173.60,484.58 L174.98,484.80 L176.36,485.04 L177.74,485.29 L179.12,485.56 L180.49,485.84 L181.87,486.14 L183.24,486.46 L184.61,486.79 L185.98,487.13 L187.35,487.49 L188.71,487.87 L190.07,488.26 L191.43,488.66 L192.79,489.08 L194.15,489.51 L195.50,489.95 L196.85,490.41 L198.20,490.88 L199.54,491.36 L200.88,491.85 L202.22,492.35 L203.56,492.87 L204.89,493.40 L206.22,493.93 L207.55,494.48 L208.87,495.04 L210.19,495.61 L211.50,496.18 L212.82,496.77 L214.13,497.36 L215.43,497.97 L216.73,498.58 L218.03,499.20 L219.32,499.83 L220.61,500.47 L221.89,501.11 L223.18,501.76 L224.45,502.42 L225.72,503.08 L226.99,503.75 L228.25,504.42 L229.51,505.11 L230.77,505.79 L232.02,506.49 L233.26,507.19 L234.50,507.89 L235.74,508.61 L236.97,509.32 L238.20,510.05 L239.43,510.77 L240.65,511.51 L241.87,512.25 L243.08,512.99 L244.29,513.74 L245.50,514.50 L246.70,515.26 L247.90,516.03 L249.10,516.80 L250.29,517.58 L251.48,518.36 L252.66,519.14 L253.84,519.94 L255.02,520.73 L256.20,521.53 L257.37,522.34 L258.54,523.15 L259.70,523.96 L260.87,524.78 L262.02,525.61 L263.18,526.43 L264.33,527.27 L265.48,528.10 L266.63,528.94 L267.77,529.79 L268.92,530.63 L270.05,531.49 L271.19,532.34 L272.32,533.20 L273.45,534.07 L274.58,534.93 L275.71,535.81 L276.83,536.68 L277.95,537.56 L279.07,538.44 L280.18,539.32 L281.30,540.21 L282.41,541.10 L283.52,542.00 L284.63,542.90 L285.73,543.80 L286.83,544.70 L287.93,545.61 L289.03,546.52 L290.13,547.43 L291.22,548.34 L292.32,549.26 L293.41,550.18 L294.50,551.10 L295.58,552.03 L296.67,552.95 L297.75,553.88 L298.84,554.81 L299.92,555.75 L301.00,556.68 L302.07,557.62 L303.15,558.56 L304.23,559.50 L305.30,560.45 L306.37,561.39 L307.44,562.34 L308.52,563.29 L309.58,564.24 L310.65,565.19 L311.72,566.14 L312.79,567.10 L313.85,568.05 L314.92,569.01 L315.98,569.97 L317.04,570.93 L318.10,571.89 L319.16,572.85 L320.23,573.81 L321.29,574.78 L322.34,575.74 L323.40,576.71 L324.46,577.67 L325.52,578.64 L326.58,579.61 L327.63,580.57 L328.69,581.54 L329.75,582.51 L330.80,583.48 L331.86,584.44 L332.92,585.41 L333.97,586.38 L335.03,587.35 L336.08,588.32 L337.14,589.29 L338.20,590.25 L339.25,591.22 L340.31,592.19 L341.37,593.16 L342.42,594.12 L343.48,595.09 L344.54,596.06 L345.60,597.02 L346.66,597.98 L347.71,598.95 L348.77,599.91 L349.83,600.87 L350.90,601.83 L351.96,602.79 L353.02,603.75 L354.08,604.71 L355.15,605.66 L356.21,606.62 L357.28,607.57 L358.35,608.52 L359.41,609.47 L360.48,610.42 L361.55,611.37 L362.62,612.32 L363.70,613.26 L364.77,614.20 L365.85,615.14 L366.92,616.08 L368.00,617.02 L369.08,617.95 L370.16,618.88 L371.24,619.81 L372.33,620.74 L373.41,621.66 L374.50,622.59 L375.59,623.51 L376.68,624.43 L377.77,625.34 L378.86,626.25 L379.96,627.16 L381.06,628.07 L382.16,628.97 L383.26,629.87 L384.36,630.77 L385.47,631.67 L386.58,632.56 L387.69,633.45 L388.80,634.33 L389.92,635.21 L391.04,636.09 L392.16,636.97 L393.28,637.84 L394.40,638.71 L395.53,639.57 L396.66,640.43 L397.79,641.29 L398.93,642.14 L400.07,642.99 L401.21,643.83 L402.35,644.67 L403.50,645.51 L404.65,646.34 L405.80,647.17 L406.95,648.00 L408.11,648.82 L409.27,649.63 L410.44,650.44 L411.61,651.25 L412.78,652.05 L413.95,652.85 L415.13,653.64 L416.31,654.42 L417.49,655.21 L418.68,655.98 L419.87,656.76 L421.07,657.52 L422.26,658.28 L423.47,659.04 L424.67,659.79 L425.88,660.54 L427.09,661.28 L428.31,662.01 L429.53,662.74 L430.76,663.47 L431.99,664.19 L433.22,664.90 L434.45,665.60 L435.70,666.30 L436.94,667.00 L438.19,667.69 L439.44,668.37 L440.70,669.05 L441.96,669.72" fill="none" stroke="#28aa4b" stroke-width="2.2" stroke-linejoin="round"/>
<path d="M84.29,512.11 L85.51,511.54 L86.73,510.98 L87.95,510.43 L89.18,509.88 L90.42,509.34 L91.66,508.80 L92.90,508.27 L94.15,507.75 L95.40,507.23 L96.65,506.71 L97.91,506.21 L99.17,505.71 L100.44,505.21 L101.71,504.73 L102.98,504.25 L104.26,503.78 L105.54,503.31 L106.83,502.86 L108.12,502.41 L109.41,501.97 L110.70,501.54 L112.00,501.12 L113.30,500.71 L114.61,500.30 L115.92,499.91 L117.23,499.52 L118.55,499.15 L119.86,498.78 L121.19,498.43 L122.51,498.09 L123.84,497.75 L125.17,497.43 L126.50,497.12 L127.84,496.82 L129.18,496.53 L130.52,496.25 L131.86,495.99 L133.21,495.73 L134.56,495.49 L135.91,495.26 L137.27,495.04 L138.63,494.84 L139.99,494.65 L141.35,494.47 L142.71,494.31 L144.08,494.16 L145.45,494.02 L146.82,493.90 L148.19,493.79 L149.57,493.70 L150.94,493.62 L152.32,493.55 L153.70,493.50 L155.08,493.47 L156.46,493.44 L157.83,493.44 L159.21,493.44 L160.59,493.47 L161.97,493.51 L163.35,493.56 L164.72,493.63 L166.10,493.71 L167.47,493.81 L168.84,493.92 L170.21,494.05 L171.57,494.20 L172.94,494.36 L174.30,494.54 L175.66,494.73 L177.01,494.94 L178.36,495.16 L179.71,495.41 L181.05,495.66 L182.39,495.94 L183.72,496.23 L185.05,496.54 L186.38,496.86 L187.70,497.20 L189.01,497.56 L190.32,497.93 L191.62,498.33 L192.91,498.73 L194.20,499.16 L195.49,499.60 L196.76,500.07 L198.03,500.54 L199.29,501.04 L200.55,501.55 L201.79,502.07 L203.04,502.61 L204.27,503.16 L205.51,503.73 L206.73,504.31 L207.95,504.90 L209.17,505.50 L210.38,506.12 L211.59,506.74 L212.79,507.37 L213.99,508.01 L215.19,508.66 L216.38,509.32 L217.57,509.99 L218.76,510.66 L219.94,511.33 L221.12,512.02 L222.30,512.70 L223.48,513.39 L224.65,514.09 L225.82,514.78 L226.99,515.48 L228.16,516.18 L229.33,516.89 L230.50,517.60 L231.66,518.31 L232.82,519.02 L233.98,519.73 L235.14,520.45 L236.30,521.17 L237.46,521.89 L238.61,522.62 L239.76,523.35 L240.91,524.08 L242.06,524.81 L243.21,525.54 L244.36,526.28 L245.51,527.02 L246.65,527.76 L247.79,528.51 L248.94,529.25 L250.08,530.00 L251.22,530.75 L252.35,531.50 L253.49,532.25 L254.63,533.01 L255.76,533.77 L256.89,534.53 L258.02,535.29 L259.16,536.05 L260.28,536.82 L261.41,537.59 L262.54,538.36 L263.67,539.13 L264.79,539.90 L265.92,540.68 L267.04,541.45 L268.16,542.23 L269.28,543.01 L270.40,543.79 L271.52,544.57 L272.64,545.36 L273.76,546.14 L274.87,546.93 L275.99,547.72 L277.10,548.50 L278.22,549.30 L279.33,550.09 L280.44,550.88 L281.55,551.68 L282.67,552.47 L283.78,553.27 L284.88,554.07 L285.99,554.87 L287.10,555.67 L288.21,556.47 L289.32,557.27 L290.42,558.07 L291.53,558.88 L292.63,559.68 L293.74,560.49 L294.84,561.30 L295.94,562.10 L297.05,562.91 L298.15,563.72 L299.25,564.53 L300.35,565.34 L301.46,566.15 L302.56,566.97 L303.66,567.78 L304.76,568.59 L305.86,569.41 L306.96,570.22 L308.06,571.04 L309.15,571.85 L310.25,572.67 L311.35,573.48 L312.45,574.30 L313.55,575.12 L314.65,575.93 L315.74,576.75 L316.84,577.57 L317.94,578.39 L319.04,579.20 L320.14,580.02 L321.23,580.84 L322.33,581.66 L323.43,582.48 L324.53,583.29 L325.62,584.11 L326.72,584.93 L327.82,585.75 L328.92,586.57 L330.01,587.38 L331.11,588.20 L332.21,589.02 L333.31,589.83 L334.41,590.65 L335.51,591.47 L336.60,592.28 L337.70,593.10 L338.80,593.91 L339.90,594.73 L341.00,595.54 L342.10,596.36 L343.20,597.17 L344.31,597.98 L345.41,598.80 L346.51,599.61 L347.61,600.42 L348.71,601.23 L349.82,602.04 L350.92,602.85 L352.03,603.65 L353.13,604.46 L354.24,605.27 L355.34,606.07 L356.45,606.88 L357.56,607.68 L358.66,608.48 L359.77,609.28 L360.88,610.08 L361.99,610.88 L363.10,611.68 L364.21,612.48 L365.33,613.27 L366.44,614.07 L367.55,614.86 L368.67,615.65 L369.78,616.45 L370.90,617.23 L372.02,618.02 L373.13,618.81 L374.25,619.59 L375.37,620.38 L376.49,621.16 L377.62,621.94 L378.74,622.72 L379.86,623.50 L380.99,624.27 L382.11,625.05 L383.24,625.82 L384.37,626.59 L385.50,627.36 L386.63,628.13 L387.76,628.89 L388.89,629.66 L390.03,630.42 L391.16,631.18 L392.30,631.94 L393.44,632.69 L394.58,633.45 L395.72,634.20 L396.86,634.95 L398.00,635.70 L399.14,636.44 L400.29,637.19 L401.44,637.93 L402.58,638.67 L403.73,639.41 L404.89,640.14 L406.04,640.87 L407.19,641.60 L408.35,642.33 L409.51,643.05 L410.67,643.78 L411.83,644.50 L412.99,645.22 L414.15,645.93 L415.32,646.64 L416.48,647.35 L417.65,648.06 L418.82,648.77 L419.99,649.47 L421.17,650.17 L422.34,650.86 L423.52,651.56 L424.70,652.25 L425.88,652.94 L427.06,653.62 L428.25,654.30 L429.44,654.98 L430.62,655.66 L431.81,656.33 L433.01,657.00 L434.20,657.67 L435.40,658.33 L436.60,658.99 L437.80,659.65 L439.00,660.31 L440.20,660.96" fill="none" stroke="#dc1f26" stroke-width="2.2" stroke-linejoin="round"/>
<path d="M108,593V615.8M105.0,593h6M105.0,615.8h6M142.5,571.8V598M139.5,571.8h6M139.5,598h6M175,608V625M172.0,608h6M172.0,625h6M209.3,618.5V632.3M206.3,618.5h6M206.3,632.3h6M240.4,609.8V632.3M237.4,609.8h6M237.4,632.3h6M277.9,626.5V636.6M274.9,626.5h6M274.9,636.6h6M316.2,662V667.5M313.2,662h6M313.2,667.5h6M353.8,675V680M350.8,675h6M350.8,680h6M396.3,676.5V681M393.3,676.5h6M393.3,681h6M442.5,684V687M439.5,684h6M439.5,687h6" fill="none" stroke="#111111" stroke-width="1.7"/>
<path d="M105.8,602.3h4.4v4.4h-4.4zM140.3,582.8h4.4v4.4h-4.4zM172.8,614.1h4.4v4.4h-4.4zM207.1,623.8h4.4v4.4h-4.4zM238.2,615.1h4.4v4.4h-4.4zM275.7,629.5h4.4v4.4h-4.4zM314.0,662.7h4.4v4.4h-4.4zM351.6,675.3h4.4v4.4h-4.4zM394.1,676.6h4.4v4.4h-4.4zM440.3,683.3h4.4v4.4h-4.4z" fill="#111111"/>
<path d="M108,544.5V578.8M105.0,544.5h6M105.0,578.8h6M175.5,551.3V581.3M172.5,551.3h6M172.5,581.3h6M209.7,563.7V588.5M206.7,563.7h6M206.7,588.5h6M242.7,583.8V602.9M239.7,583.8h6M239.7,602.9h6M285.1,611.5V625.1M282.1,611.5h6M282.1,625.1h6M327.8,642.5V649.7M324.8,642.5h6M324.8,649.7h6M370,662V668M367.0,662h6M367.0,668h6M414.8,678V682.5M411.8,678h6M411.8,682.5h6" fill="none" stroke="#5a2d91" stroke-width="1.7"/>
<path d="M105.8,559.1h4.4v4.4h-4.4zM173.3,562.8h4.4v4.4h-4.4zM207.5,573.6h4.4v4.4h-4.4zM240.5,591.2h4.4v4.4h-4.4zM282.9,616.3h4.4v4.4h-4.4zM325.6,643.9h4.4v4.4h-4.4zM367.8,662.8h4.4v4.4h-4.4zM412.6,678.1h4.4v4.4h-4.4zM457.7,681.5h5.4v5.4h-5.4z" fill="#5a2d91"/>
<path d="M107.5,491.8V538.9M104.5,491.8h6M104.5,538.9h6M143,511.8V555.5M140.0,511.8h6M140.0,555.5h6M175.5,504.3V542.5M172.5,504.3h6M172.5,542.5h6M210,518.8V552.5M207.0,518.8h6M207.0,552.5h6M241.5,536V558.5M238.5,536h6M238.5,558.5h6M281.6,576V594.2M278.6,576h6M278.6,594.2h6M322.6,620.8V631.7M319.6,620.8h6M319.6,631.7h6M364.3,648V654.5M361.3,648h6M361.3,654.5h6M409.5,661V666.5M406.5,661h6M406.5,666.5h6" fill="none" stroke="#3c50a0" stroke-width="1.7"/>
<path d="M105.3,513.8h4.4v4.4h-4.4zM140.8,532.1h4.4v4.4h-4.4zM173.3,522.1h4.4v4.4h-4.4zM207.8,533.8h4.4v4.4h-4.4zM239.3,540.9h4.4v4.4h-4.4zM279.4,582.5h4.4v4.4h-4.4zM320.4,623.8h4.4v4.4h-4.4zM362.1,649.1h4.4v4.4h-4.4zM407.3,661.6h4.4v4.4h-4.4zM453.8,672.3h5.4v5.4h-5.4z" fill="#3c50a0"/>
<path d="M97.6,426.8V489.3M94.6,426.8h6M94.6,489.3h6M133,482.5V510M130.0,482.5h6M130.0,510h6M166.3,474.3V498.8M163.3,474.3h6M163.3,498.8h6M203.8,503V535M200.8,503h6M200.8,535h6M239.9,512V530M236.9,512h6M236.9,530h6M240.9,531V548M237.9,531h6M237.9,548h6M282.5,550V570.3M279.5,550h6M279.5,570.3h6M322,580V594.5M319.0,580h6M319.0,594.5h6M360,598.8V611.3M357.0,598.8h6M357.0,611.3h6M404.2,645V651.3M401.2,645h6M401.2,651.3h6" fill="none" stroke="#50b4e6" stroke-width="1.7"/>
<path d="M95.4,455.3h4.4v4.4h-4.4zM201.6,516.8h4.4v4.4h-4.4zM237.7,518.6h4.4v4.4h-4.4zM238.7,536.5h4.4v4.4h-4.4zM280.3,558.0h4.4v4.4h-4.4zM319.8,584.1h4.4v4.4h-4.4zM357.8,602.8h4.4v4.4h-4.4zM402.0,646.1h4.4v4.4h-4.4zM449.2,655.4h5.4v5.4h-5.4z" fill="#50b4e6"/>
<path d="M93.7,486V534.7M90.7,486h6M90.7,534.7h6M129.3,514.3V552M126.3,514.3h6M126.3,552h6M163,490.5V533M160.0,490.5h6M160.0,533h6M200.5,534.6V565.8M197.5,534.6h6M197.5,565.8h6M235.6,492V542M232.6,492h6M232.6,542h6M277,503.8V538.8M274.0,503.8h6M274.0,538.8h6M315,525V553.3M312.0,525h6M312.0,553.3h6M351.3,568V586.3M348.3,568h6M348.3,586.3h6M392,622V631.3M389.0,622h6M389.0,631.3h6M438.7,653V660M435.7,653h6M435.7,660h6" fill="none" stroke="#eb6428" stroke-width="1.7"/>
<path d="M91.5,509.7h4.4v4.4h-4.4zM127.1,530.3h4.4v4.4h-4.4zM160.8,509.6h4.4v4.4h-4.4zM198.3,547.8h4.4v4.4h-4.4zM233.4,507.8h4.4v4.4h-4.4zM274.8,519.1h4.4v4.4h-4.4zM312.8,537.3h4.4v4.4h-4.4zM349.1,574.8h4.4v4.4h-4.4zM389.8,624.1h4.4v4.4h-4.4zM436.5,654.5h4.4v4.4h-4.4z" fill="#eb6428"/>
<path d="M84.6,475.9V529.9M81.6,475.9h6M81.6,529.9h6M122.5,457.5V510.5M119.5,457.5h6M119.5,510.5h6M160.5,465.5V512.5M157.5,465.5h6M157.5,512.5h6M199.3,505.5V545M196.3,505.5h6M196.3,545h6M235,482V525M232.0,482h6M232.0,525h6M250.8,487.5V525M247.8,487.5h6M247.8,525h6M285.5,513.8V548.8M282.5,513.8h6M282.5,548.8h6M318.8,553.8V580M315.8,553.8h6M315.8,580h6M352,594.5V610M349.0,594.5h6M349.0,610h6M437,664V670M434.0,664h6M434.0,670h6" fill="none" stroke="#28aa4b" stroke-width="1.7"/>
<path d="M82.4,500.2h4.4v4.4h-4.4zM120.3,482.1h4.4v4.4h-4.4zM158.3,487.8h4.4v4.4h-4.4zM197.1,522.1h4.4v4.4h-4.4zM232.8,499.8h4.4v4.4h-4.4zM248.6,504.8h4.4v4.4h-4.4zM283.3,527.3h4.4v4.4h-4.4zM316.6,565.3h4.4v4.4h-4.4zM349.8,600.3h4.4v4.4h-4.4zM434.8,665.0h4.4v4.4h-4.4z" fill="#28aa4b"/>
<path d="M96.9,483.3V530.4M93.9,483.3h6M93.9,530.4h6M134.3,427.5V485M131.3,427.5h6M131.3,485h6M169.3,505V542.5M166.3,505h6M166.3,542.5h6M207.5,518.8V552.5M204.5,518.8h6M204.5,552.5h6M242,475V516M239.0,475h6M239.0,516h6M241.5,505V532M238.5,505h6M238.5,532h6M281.3,531.3V560M278.3,531.3h6M278.3,560h6M318,560V581.3M315.0,560h6M315.0,581.3h6M353.5,598V611.3M350.5,598h6M350.5,611.3h6M392.5,633.8V641.3M389.5,633.8h6M389.5,641.3h6M440.2,658V666M437.2,658h6M437.2,666h6" fill="none" stroke="#dc1f26" stroke-width="1.7"/>
<path d="M94.7,505.5h4.4v4.4h-4.4zM132.1,453.8h4.4v4.4h-4.4zM167.1,522.1h4.4v4.4h-4.4zM205.3,534.1h4.4v4.4h-4.4zM239.8,493.3h4.4v4.4h-4.4zM239.3,514.1h4.4v4.4h-4.4zM279.1,542.8h4.4v4.4h-4.4zM315.8,569.1h4.4v4.4h-4.4zM351.3,602.8h4.4v4.4h-4.4zM390.3,635.3h4.4v4.4h-4.4zM438.0,659.8h4.4v4.4h-4.4z" fill="#dc1f26"/>
<path d="M464.5,652.3V660.8" stroke="#555" stroke-width="1.3"/>
<path d="M238.4,622.8h4.6v4.6h-4.6z" fill="#111111"/>
</g>
<text transform="matrix(0.8320 0 0 0.9679 87.47 24.20)" style="font-family:'Liberation Sans',Arial,sans-serif;font-size:21px;stroke-width:0.85px;stroke-linejoin:round;fill:#000;stroke:#000;">(</text>
<text transform="matrix(0.8261 0 0 0.9388 93.99 24.83)" style="font-family:'Liberation Sans',Arial,sans-serif;font-size:21px;stroke-width:0.85px;stroke-linejoin:round;fill:#000;stroke:#000;">a</text>
<text transform="matrix(0.8320 0 0 0.9679 105.51 24.20)" style="font-family:'Liberation Sans',Arial,sans-serif;font-size:21px;stroke-width:0.85px;stroke-linejoin:round;fill:#000;stroke:#000;">)</text>
<text transform="matrix(1.0024 0 0 0.9625 332.15 32.12)" style="font-family:'Liberation Sans',Arial,sans-serif;font-size:21px;stroke-width:0.85px;stroke-linejoin:round;fill:#cd163a;stroke:#cd163a;">Beam mix = 0.0</text>
<text transform="matrix(0.9675 0 0 0.9548 449.52 52.52)" style="font-family:'Liberation Sans',Arial,sans-serif;font-size:21px;stroke-width:0.85px;stroke-linejoin:round;fill:#168c48;stroke:#168c48;">0.45</text>
<text transform="matrix(0.9761 0 0 0.9935 449.51 73.70)" style="font-family:'Liberation Sans',Arial,sans-serif;font-size:21px;stroke-width:0.85px;stroke-linejoin:round;fill:#1c68ac;stroke:#1c68ac;">0.72</text>
<text transform="matrix(0.9418 0 0 0.9871 449.42 95.31)" style="font-family:'Liberation Sans',Arial,sans-serif;font-size:21px;stroke-width:0.85px;stroke-linejoin:round;fill:#55237e;stroke:#55237e;">1.0</text>
<text transform="matrix(1.0065 0 0 1.0065 39.39 75.30)" style="font-family:'Liberation Sans',Arial,sans-serif;font-size:21px;stroke-width:0.85px;stroke-linejoin:round;fill:#000;stroke:#000;">3</text>
<text transform="matrix(1.0065 0 0 1.0065 39.39 162.30)" style="font-family:'Liberation Sans',Arial,sans-serif;font-size:21px;stroke-width:0.85px;stroke-linejoin:round;fill:#000;stroke:#000;">2</text>
<text transform="matrix(1.0033 0 0 1.0033 38.40 249.40)" style="font-family:'Liberation Sans',Arial,sans-serif;font-size:21px;stroke-width:0.85px;stroke-linejoin:round;fill:#000;stroke:#000;">1</text>
<text transform="matrix(0.9871 0 0 0.9871 41.80 335.91)" style="font-family:'Liberation Sans',Arial,sans-serif;font-size:21px;stroke-width:0.85px;stroke-linejoin:round;fill:#000;stroke:#000;">0</text>
<text transform="matrix(0.9902 0 0 0.9902 47.92 363.90)" style="font-family:'Liberation Sans',Arial,sans-serif;font-size:21px;stroke-width:0.85px;stroke-linejoin:round;fill:#000;stroke:#000;">1.7</text>
<text transform="matrix(0.9742 0 0 0.9742 119.24 363.81)" style="font-family:'Liberation Sans',Arial,sans-serif;font-size:21px;stroke-width:0.85px;stroke-linejoin:round;fill:#000;stroke:#000;">1.8</text>
<text transform="matrix(0.9806 0 0 0.9806 194.81 363.91)" style="font-family:'Liberation Sans',Arial,sans-serif;font-size:21px;stroke-width:0.85px;stroke-linejoin:round;fill:#000;stroke:#000;">1.9</text>
<text transform="matrix(0.9806 0 0 0.9806 268.09 363.91)" style="font-family:'Liberation Sans',Arial,sans-serif;font-size:21px;stroke-width:0.85px;stroke-linejoin:round;fill:#000;stroke:#000;">2.0</text>
<text transform="matrix(0.9806 0 0 0.9806 341.81 363.91)" style="font-family:'Liberation Sans',Arial,sans-serif;font-size:21px;stroke-width:0.85px;stroke-linejoin:round;fill:#000;stroke:#000;">2.1</text>
<text transform="matrix(0.9806 0 0 0.9806 417.71 363.91)" style="font-family:'Liberation Sans',Arial,sans-serif;font-size:21px;stroke-width:0.85px;stroke-linejoin:round;fill:#000;stroke:#000;">2.2</text>
<text transform="matrix(1.0063 0 0 0.9926 191.04 391.69)" style="font-family:'Liberation Sans',Arial,sans-serif;font-size:21px;stroke-width:0.85px;stroke-linejoin:round;fill:#000;stroke:#000;">Major Radius (m)</text>
<text transform="translate(26.50 227.26) rotate(-90) scale(1.0094 1.0519)" style="font-family:'Liberation Sans',Arial,sans-serif;font-size:21px;stroke-width:0.85px;stroke-linejoin:round;fill:#000;stroke:#000;">FIDA Density</text>
<text transform="matrix(0.9611 0 0 0.9611 26.17 441.78)" style="font-family:'Liberation Sans',Arial,sans-serif;font-size:24px;font-weight:bold;stroke-width:0.9px;stroke-linejoin:round;fill:#000;stroke:#000;">1200</text>
<text transform="matrix(0.9611 0 0 0.9611 36.90 525.08)" style="font-family:'Liberation Sans',Arial,sans-serif;font-size:24px;font-weight:bold;stroke-width:0.9px;stroke-linejoin:round;fill:#000;stroke:#000;">800</text>
<text transform="matrix(0.9611 0 0 0.9611 38.52 608.08)" style="font-family:'Liberation Sans',Arial,sans-serif;font-size:24px;font-weight:bold;stroke-width:0.9px;stroke-linejoin:round;fill:#000;stroke:#000;">400</text>
<text transform="matrix(1.0056 0 0 1.0056 66.49 686.65)" style="font-family:'Liberation Sans',Arial,sans-serif;font-size:24px;font-weight:bold;stroke-width:0.9px;stroke-linejoin:round;fill:#000;stroke:#000;">0</text>
<text transform="matrix(1.0056 0 0 1.0056 62.58 716.15)" style="font-family:'Liberation Sans',Arial,sans-serif;font-size:24px;font-weight:bold;stroke-width:0.9px;stroke-linejoin:round;fill:#000;stroke:#000;">0.0</text>
<text transform="matrix(1.0000 0 0 1.0000 147.88 716.05)" style="font-family:'Liberation Sans',Arial,sans-serif;font-size:24px;font-weight:bold;stroke-width:0.9px;stroke-linejoin:round;fill:#000;stroke:#000;">0.2</text>
<text transform="matrix(1.0056 0 0 1.0056 231.63 716.15)" style="font-family:'Liberation Sans',Arial,sans-serif;font-size:24px;font-weight:bold;stroke-width:0.9px;stroke-linejoin:round;fill:#000;stroke:#000;">0.4</text>
<text transform="matrix(1.0056 0 0 1.0056 316.76 716.15)" style="font-family:'Liberation Sans',Arial,sans-serif;font-size:24px;font-weight:bold;stroke-width:0.9px;stroke-linejoin:round;fill:#000;stroke:#000;">0.6</text>
<text transform="matrix(1.0000 0 0 1.0000 401.55 716.05)" style="font-family:'Liberation Sans',Arial,sans-serif;font-size:24px;font-weight:bold;stroke-width:0.9px;stroke-linejoin:round;fill:#000;stroke:#000;">0.8</text>
<text transform="matrix(1.0000 0 0 1.0000 486.73 716.05)" style="font-family:'Liberation Sans',Arial,sans-serif;font-size:24px;font-weight:bold;stroke-width:0.9px;stroke-linejoin:round;fill:#000;stroke:#000;">1.0</text>
<text transform="matrix(0.9697 0 0 0.9143 99.13 441.16)" style="font-family:'Liberation Sans',Arial,sans-serif;font-size:22px;stroke-width:0.5px;stroke-linejoin:round;fill:#000;stroke:#000;">(b)</text>
<text transform="matrix(1.0707 0 0 1.1071 103.80 673.95)" style="font-family:'Liberation Sans',Arial,sans-serif;font-size:19px;font-weight:bold;stroke-width:0.7px;stroke-linejoin:round;fill:#000;stroke:#000;">t=1035 ms</text>
<text transform="matrix(1.0232 0 0 1.0151 175.62 748.22)" style="font-family:'Liberation Sans',Arial,sans-serif;font-size:24px;font-weight:bold;stroke-width:0.9px;stroke-linejoin:round;fill:#000;stroke:#000;">Minor Radius (</text>
<text transform="matrix(1.1822 0 0 1.0222 350.53 749.29)" style="font-family:'Liberation Sans',Arial,sans-serif;font-size:24px;stroke-width:0.3px;stroke-linejoin:round;fill:#000;stroke:#000;">ρ</text>
<text transform="matrix(1.2111 0 0 1.0455 368.69 751.50)" style="font-family:'Liberation Sans',Arial,sans-serif;font-size:16px;stroke-width:0.2px;stroke-linejoin:round;fill:#000;stroke:#000;">N</text>
<text transform="matrix(0.8903 0 0 1.0151 385.05 748.22)" style="font-family:'Liberation Sans',Arial,sans-serif;font-size:24px;font-weight:bold;stroke-width:0.9px;stroke-linejoin:round;fill:#000;stroke:#000;">)</text>
<text transform="translate(17.45 692.68) rotate(-90) scale(1.0268 0.9720)" style="font-family:'Liberation Sans',Arial,sans-serif;font-size:24px;font-weight:bold;stroke-width:0.9px;stroke-linejoin:round;fill:#000;stroke:#000;">FIDA Density (ph/s-sR)</text>
<text transform="matrix(1.0548 0 0 0.9630 429.34 438.32)" style="font-family:'Liberation Sans',Arial,sans-serif;font-size:18px;font-weight:bold;stroke-width:0.75px;stroke-linejoin:round;fill:#d7202e;stroke:#d7202e;">9.3 MW</text>
<text transform="matrix(1.0548 0 0 0.9630 429.34 455.75)" style="font-family:'Liberation Sans',Arial,sans-serif;font-size:18px;font-weight:bold;stroke-width:0.75px;stroke-linejoin:round;fill:#e8612c;stroke:#e8612c;">8.0 MW</text>
<text transform="matrix(1.0591 0 0 0.9630 429.07 473.18)" style="font-family:'Liberation Sans',Arial,sans-serif;font-size:18px;font-weight:bold;stroke-width:0.75px;stroke-linejoin:round;fill:#2aa24a;stroke:#2aa24a;">7.6 MW</text>
<text transform="matrix(1.0548 0 0 0.9630 429.34 490.61)" style="font-family:'Liberation Sans',Arial,sans-serif;font-size:18px;font-weight:bold;stroke-width:0.75px;stroke-linejoin:round;fill:#4fb3e6;stroke:#4fb3e6;">6.4 MW</text>
<text transform="matrix(1.0506 0 0 1.0000 429.60 508.27)" style="font-family:'Liberation Sans',Arial,sans-serif;font-size:18px;font-weight:bold;stroke-width:0.75px;stroke-linejoin:round;fill:#3c4fa0;stroke:#3c4fa0;">4.1 MW</text>
<text transform="matrix(1.0506 0 0 0.9630 429.60 525.47)" style="font-family:'Liberation Sans',Arial,sans-serif;font-size:18px;font-weight:bold;stroke-width:0.75px;stroke-linejoin:round;fill:#5a2d8f;stroke:#5a2d8f;">3.7 MW</text>
<text transform="matrix(1.0548 0 0 0.9811 429.34 543.13)" style="font-family:'Liberation Sans',Arial,sans-serif;font-size:18px;font-weight:bold;stroke-width:0.75px;stroke-linejoin:round;fill:#000000;stroke:#000000;">2.4 MW</text>
</svg>
</body></html>
